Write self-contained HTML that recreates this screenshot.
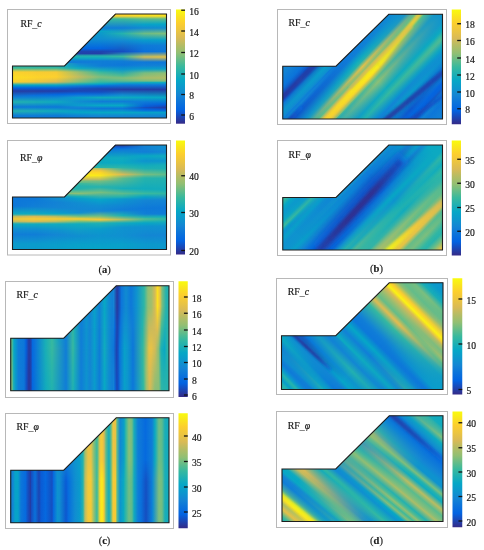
<!DOCTYPE html>
<html><head><meta charset="utf-8"><style>
html,body{margin:0;padding:0;background:#fff;}
svg{display:block;}
.t{font-family:"Liberation Serif", "Times New Roman", serif;font-size:9.6px;fill:#1a1a1a;stroke:#1a1a1a;stroke-width:0.2px;}
.rf{font-family:"Liberation Serif", "Times New Roman", serif;font-size:9.8px;fill:#1a1a1a;stroke:#1a1a1a;stroke-width:0.2px;}
.pl{font-family:"Liberation Serif", "Times New Roman", serif;font-size:10.5px;fill:#1a1a1a;stroke:#1a1a1a;stroke-width:0.15px;}
</style></head><body>
<svg width="484" height="550" viewBox="0 0 484 550">
<defs>
<clipPath id="clip_A1"><polygon points="12.5,66 64.5,66 115.5,14 166.5,14 166.5,118 12.5,118"/></clipPath>
<linearGradient id="g_A1_0" gradientUnits="userSpaceOnUse" x1="0" y1="12.5" x2="0" y2="119.5"><stop offset="0" stop-color="#fbdb25"/><stop offset="0.0327" stop-color="#fcd32a"/><stop offset="0.0607" stop-color="#40ba9a"/><stop offset="0.1449" stop-color="#1281d6"/><stop offset="0.1776" stop-color="#0daac0"/><stop offset="0.1822" stop-color="#09a0c9"/><stop offset="0.2009" stop-color="#08a3c8"/><stop offset="0.257" stop-color="#118cd1"/><stop offset="0.3458" stop-color="#085ed9"/><stop offset="0.3645" stop-color="#184bbb"/><stop offset="0.3832" stop-color="#0660dc"/><stop offset="0.4065" stop-color="#2cb5a8"/><stop offset="0.4159" stop-color="#29b4aa"/><stop offset="0.4346" stop-color="#08a2c8"/><stop offset="0.4533" stop-color="#117fd6"/><stop offset="0.4673" stop-color="#107cd7"/><stop offset="0.472" stop-color="#38b99e"/><stop offset="0.5187" stop-color="#38b99e"/><stop offset="0.5561" stop-color="#fcd02d"/><stop offset="0.6075" stop-color="#fbdd24"/><stop offset="0.6495" stop-color="#fcd02d"/><stop offset="0.6776" stop-color="#08a8c4"/><stop offset="0.7056" stop-color="#0561dd"/><stop offset="0.7336" stop-color="#253ca4"/><stop offset="0.7897" stop-color="#107dd7"/><stop offset="0.8364" stop-color="#24b2ae"/><stop offset="0.8832" stop-color="#0d77d9"/><stop offset="0.9206" stop-color="#24b2ae"/><stop offset="0.9673" stop-color="#0d77d9"/><stop offset="0.9907" stop-color="#1485d4"/><stop offset="1" stop-color="#1485d4"/></linearGradient>
<linearGradient id="g_A1_1" gradientUnits="userSpaceOnUse" x1="0" y1="12.5" x2="0" y2="119.5"><stop offset="0" stop-color="#fbdb25"/><stop offset="0.0327" stop-color="#fcd22b"/><stop offset="0.0607" stop-color="#3fb99b"/><stop offset="0.1449" stop-color="#1180d6"/><stop offset="0.1776" stop-color="#0ba9c2"/><stop offset="0.1822" stop-color="#099fc9"/><stop offset="0.2009" stop-color="#09a0c9"/><stop offset="0.2523" stop-color="#108ed0"/><stop offset="0.3411" stop-color="#0462e0"/><stop offset="0.3645" stop-color="#1a49b8"/><stop offset="0.3832" stop-color="#0d57cf"/><stop offset="0.4065" stop-color="#29b4aa"/><stop offset="0.4206" stop-color="#1dafb4"/><stop offset="0.4533" stop-color="#117ed7"/><stop offset="0.4673" stop-color="#107cd7"/><stop offset="0.472" stop-color="#27b3ab"/><stop offset="0.5187" stop-color="#36b89f"/><stop offset="0.5561" stop-color="#f8cc32"/><stop offset="0.6075" stop-color="#fcd42a"/><stop offset="0.6495" stop-color="#eec63e"/><stop offset="0.6776" stop-color="#07a7c5"/><stop offset="0.7056" stop-color="#0560dd"/><stop offset="0.7336" stop-color="#253da4"/><stop offset="0.7757" stop-color="#0a71dc"/><stop offset="0.8364" stop-color="#1bafb5"/><stop offset="0.8832" stop-color="#0d78d9"/><stop offset="0.9206" stop-color="#1cafb5"/><stop offset="0.9673" stop-color="#0d78d9"/><stop offset="0.9907" stop-color="#1485d4"/><stop offset="1" stop-color="#1485d4"/></linearGradient>
<linearGradient id="mg_A1_1" gradientUnits="userSpaceOnUse" x1="12.5" y1="0" x2="34.5" y2="0"><stop offset="0" stop-color="#000"/><stop offset="1" stop-color="#fff"/></linearGradient>
<mask id="m_A1_1" maskUnits="userSpaceOnUse" x="0" y="0" width="484" height="550"><rect x="11.5" y="13" width="156" height="106" fill="url(#mg_A1_1)"/></mask>
<linearGradient id="g_A1_2" gradientUnits="userSpaceOnUse" x1="0" y1="12.5" x2="0" y2="119.5"><stop offset="0" stop-color="#fbda26"/><stop offset="0.0327" stop-color="#fcd22b"/><stop offset="0.0607" stop-color="#3db99c"/><stop offset="0.1449" stop-color="#117fd6"/><stop offset="0.1776" stop-color="#09a8c4"/><stop offset="0.1822" stop-color="#0b9ccb"/><stop offset="0.2056" stop-color="#0c99cc"/><stop offset="0.2477" stop-color="#108fd0"/><stop offset="0.3411" stop-color="#0461df"/><stop offset="0.3645" stop-color="#1c46b4"/><stop offset="0.3832" stop-color="#174cbd"/><stop offset="0.4065" stop-color="#26b3ac"/><stop offset="0.4252" stop-color="#13acbc"/><stop offset="0.4533" stop-color="#107dd7"/><stop offset="0.4673" stop-color="#107cd7"/><stop offset="0.472" stop-color="#20b0b1"/><stop offset="0.5047" stop-color="#29b4aa"/><stop offset="0.5187" stop-color="#38b99e"/><stop offset="0.5561" stop-color="#f5ca36"/><stop offset="0.6028" stop-color="#fcd02d"/><stop offset="0.6495" stop-color="#d9ba56"/><stop offset="0.6776" stop-color="#08a8c4"/><stop offset="0.7056" stop-color="#0561dd"/><stop offset="0.7336" stop-color="#253ca4"/><stop offset="0.7664" stop-color="#0568df"/><stop offset="0.7991" stop-color="#118dd1"/><stop offset="0.8364" stop-color="#10abbe"/><stop offset="0.8832" stop-color="#0d77d9"/><stop offset="0.9206" stop-color="#10abbe"/><stop offset="0.9673" stop-color="#0d77d9"/><stop offset="0.9907" stop-color="#1485d4"/><stop offset="1" stop-color="#1485d4"/></linearGradient>
<linearGradient id="mg_A1_2" gradientUnits="userSpaceOnUse" x1="34.5" y1="0" x2="56.5" y2="0"><stop offset="0" stop-color="#000"/><stop offset="1" stop-color="#fff"/></linearGradient>
<mask id="m_A1_2" maskUnits="userSpaceOnUse" x="0" y="0" width="484" height="550"><rect x="11.5" y="13" width="156" height="106" fill="url(#mg_A1_2)"/></mask>
<linearGradient id="g_A1_3" gradientUnits="userSpaceOnUse" x1="0" y1="12.5" x2="0" y2="119.5"><stop offset="0" stop-color="#fbd926"/><stop offset="0.0327" stop-color="#fcd12c"/><stop offset="0.0607" stop-color="#3bb99d"/><stop offset="0.1449" stop-color="#117ed7"/><stop offset="0.1776" stop-color="#06a7c6"/><stop offset="0.1822" stop-color="#0c98cc"/><stop offset="0.2477" stop-color="#108ed0"/><stop offset="0.3364" stop-color="#0466e0"/><stop offset="0.3645" stop-color="#1e44b0"/><stop offset="0.3832" stop-color="#2141ab"/><stop offset="0.4065" stop-color="#24b2ae"/><stop offset="0.4252" stop-color="#10abbe"/><stop offset="0.4533" stop-color="#107dd7"/><stop offset="0.4673" stop-color="#107dd7"/><stop offset="0.4766" stop-color="#1485d4"/><stop offset="0.5047" stop-color="#0b9bcb"/><stop offset="0.5234" stop-color="#15acba"/><stop offset="0.5561" stop-color="#99be70"/><stop offset="0.6028" stop-color="#c3bc5f"/><stop offset="0.6495" stop-color="#80be7c"/><stop offset="0.6682" stop-color="#1baeb5"/><stop offset="0.6869" stop-color="#0e79d8"/><stop offset="0.7103" stop-color="#1450c3"/><stop offset="0.7336" stop-color="#1d45b1"/><stop offset="0.7617" stop-color="#0669df"/><stop offset="0.7804" stop-color="#1485d4"/><stop offset="0.7944" stop-color="#099fc9"/><stop offset="0.8318" stop-color="#108fd0"/><stop offset="0.8598" stop-color="#0c99cc"/><stop offset="0.8692" stop-color="#0b9bcb"/><stop offset="0.8832" stop-color="#1486d4"/><stop offset="0.8972" stop-color="#1180d6"/><stop offset="0.9206" stop-color="#09a0c9"/><stop offset="0.9346" stop-color="#07a4c7"/><stop offset="0.9673" stop-color="#1180d6"/><stop offset="1" stop-color="#1485d4"/></linearGradient>
<linearGradient id="mg_A1_3" gradientUnits="userSpaceOnUse" x1="56.5" y1="0" x2="78.5" y2="0"><stop offset="0" stop-color="#000"/><stop offset="1" stop-color="#fff"/></linearGradient>
<mask id="m_A1_3" maskUnits="userSpaceOnUse" x="0" y="0" width="484" height="550"><rect x="11.5" y="13" width="156" height="106" fill="url(#mg_A1_3)"/></mask>
<linearGradient id="g_A1_4" gradientUnits="userSpaceOnUse" x1="0" y1="12.5" x2="0" y2="119.5"><stop offset="0" stop-color="#fbd827"/><stop offset="0.0327" stop-color="#fcd02d"/><stop offset="0.0607" stop-color="#39b99e"/><stop offset="0.1449" stop-color="#107dd7"/><stop offset="0.1776" stop-color="#07a5c7"/><stop offset="0.1822" stop-color="#0a9dca"/><stop offset="0.2243" stop-color="#0e93ce"/><stop offset="0.2477" stop-color="#108ed0"/><stop offset="0.3364" stop-color="#0466e0"/><stop offset="0.3645" stop-color="#1e44b0"/><stop offset="0.3832" stop-color="#233fa8"/><stop offset="0.4065" stop-color="#24b2ae"/><stop offset="0.4252" stop-color="#10abbe"/><stop offset="0.4533" stop-color="#107dd7"/><stop offset="0.5" stop-color="#107dd7"/><stop offset="0.5421" stop-color="#1aaeb6"/><stop offset="0.5607" stop-color="#3eb99b"/><stop offset="0.6028" stop-color="#80be7c"/><stop offset="0.6495" stop-color="#38b99e"/><stop offset="0.6682" stop-color="#07a7c5"/><stop offset="0.6869" stop-color="#066ade"/><stop offset="0.715" stop-color="#2141ab"/><stop offset="0.743" stop-color="#144fc2"/><stop offset="0.771" stop-color="#0d78d9"/><stop offset="0.7944" stop-color="#10abbe"/><stop offset="0.8318" stop-color="#107dd7"/><stop offset="0.8692" stop-color="#08a8c5"/><stop offset="0.8972" stop-color="#0d77d9"/><stop offset="0.9346" stop-color="#08a8c4"/><stop offset="0.9673" stop-color="#1485d4"/><stop offset="1" stop-color="#1485d4"/></linearGradient>
<linearGradient id="mg_A1_4" gradientUnits="userSpaceOnUse" x1="78.5" y1="0" x2="100.5" y2="0"><stop offset="0" stop-color="#000"/><stop offset="1" stop-color="#fff"/></linearGradient>
<mask id="m_A1_4" maskUnits="userSpaceOnUse" x="0" y="0" width="484" height="550"><rect x="11.5" y="13" width="156" height="106" fill="url(#mg_A1_4)"/></mask>
<linearGradient id="g_A1_5" gradientUnits="userSpaceOnUse" x1="0" y1="12.5" x2="0" y2="119.5"><stop offset="0" stop-color="#fbd728"/><stop offset="0.0327" stop-color="#fcd02d"/><stop offset="0.0607" stop-color="#38b99e"/><stop offset="0.1449" stop-color="#107dd7"/><stop offset="0.1963" stop-color="#24b2ae"/><stop offset="0.2664" stop-color="#1388d3"/><stop offset="0.3645" stop-color="#154ec1"/><stop offset="0.4112" stop-color="#38b99e"/><stop offset="0.4533" stop-color="#107dd7"/><stop offset="0.4907" stop-color="#0d77d9"/><stop offset="0.5327" stop-color="#0c97cc"/><stop offset="0.5888" stop-color="#4aba95"/><stop offset="0.6121" stop-color="#80be7c"/><stop offset="0.6402" stop-color="#5cbb8d"/><stop offset="0.6636" stop-color="#0c98cc"/><stop offset="0.6776" stop-color="#0d77d9"/><stop offset="0.7196" stop-color="#253ca4"/><stop offset="0.771" stop-color="#118cd1"/><stop offset="0.7944" stop-color="#10abbe"/><stop offset="0.8318" stop-color="#107dd7"/><stop offset="0.8692" stop-color="#08a8c4"/><stop offset="0.8972" stop-color="#0d77d9"/><stop offset="0.9346" stop-color="#08a8c4"/><stop offset="0.9673" stop-color="#1485d4"/><stop offset="1" stop-color="#1485d4"/></linearGradient>
<linearGradient id="mg_A1_5" gradientUnits="userSpaceOnUse" x1="100.5" y1="0" x2="122.5" y2="0"><stop offset="0" stop-color="#000"/><stop offset="1" stop-color="#fff"/></linearGradient>
<mask id="m_A1_5" maskUnits="userSpaceOnUse" x="0" y="0" width="484" height="550"><rect x="11.5" y="13" width="156" height="106" fill="url(#mg_A1_5)"/></mask>
<linearGradient id="g_A1_6" gradientUnits="userSpaceOnUse" x1="0" y1="12.5" x2="0" y2="119.5"><stop offset="0" stop-color="#fae51e"/><stop offset="0.028" stop-color="#fbde23"/><stop offset="0.0327" stop-color="#fbdc24"/><stop offset="0.0607" stop-color="#56bb90"/><stop offset="0.1121" stop-color="#08a2c8"/><stop offset="0.1449" stop-color="#128ad2"/><stop offset="0.1963" stop-color="#6bbc86"/><stop offset="0.257" stop-color="#0a9dca"/><stop offset="0.3084" stop-color="#0f7ad8"/><stop offset="0.3645" stop-color="#0a71dc"/><stop offset="0.4112" stop-color="#bbbc62"/><stop offset="0.4159" stop-color="#d1bb59"/><stop offset="0.4626" stop-color="#0e78d9"/><stop offset="0.4953" stop-color="#1280d6"/><stop offset="0.528" stop-color="#0a9eca"/><stop offset="0.5654" stop-color="#78bd7f"/><stop offset="0.6121" stop-color="#a9bd6a"/><stop offset="0.6402" stop-color="#79bd7f"/><stop offset="0.6542" stop-color="#11abbd"/><stop offset="0.6776" stop-color="#0d78d9"/><stop offset="0.7196" stop-color="#253ca4"/><stop offset="0.785" stop-color="#0a9dca"/><stop offset="0.7944" stop-color="#09a8c3"/><stop offset="0.8364" stop-color="#0e7ad8"/><stop offset="0.8785" stop-color="#085ed9"/><stop offset="0.8879" stop-color="#1450c2"/><stop offset="0.9065" stop-color="#0465e0"/><stop offset="0.9112" stop-color="#0669df"/><stop offset="0.9346" stop-color="#08a2c8"/><stop offset="0.9673" stop-color="#1485d4"/><stop offset="1" stop-color="#1485d4"/></linearGradient>
<linearGradient id="mg_A1_6" gradientUnits="userSpaceOnUse" x1="122.5" y1="0" x2="144.5" y2="0"><stop offset="0" stop-color="#000"/><stop offset="1" stop-color="#fff"/></linearGradient>
<mask id="m_A1_6" maskUnits="userSpaceOnUse" x="0" y="0" width="484" height="550"><rect x="11.5" y="13" width="156" height="106" fill="url(#mg_A1_6)"/></mask>
<linearGradient id="g_A1_7" gradientUnits="userSpaceOnUse" x1="0" y1="12.5" x2="0" y2="119.5"><stop offset="0" stop-color="#fae91b"/><stop offset="0.028" stop-color="#fbe121"/><stop offset="0.0327" stop-color="#fbde22"/><stop offset="0.0607" stop-color="#5cbb8d"/><stop offset="0.1075" stop-color="#06a7c6"/><stop offset="0.1449" stop-color="#118dd1"/><stop offset="0.1963" stop-color="#80be7c"/><stop offset="0.257" stop-color="#08a1c8"/><stop offset="0.3084" stop-color="#107cd7"/><stop offset="0.3645" stop-color="#0d77d9"/><stop offset="0.4159" stop-color="#e7c246"/><stop offset="0.4626" stop-color="#0d77d9"/><stop offset="0.4953" stop-color="#1281d5"/><stop offset="0.528" stop-color="#09a0c9"/><stop offset="0.5654" stop-color="#8ebf75"/><stop offset="0.6121" stop-color="#b1bd66"/><stop offset="0.6402" stop-color="#80be7c"/><stop offset="0.6542" stop-color="#10abbe"/><stop offset="0.6776" stop-color="#0d77d9"/><stop offset="0.7196" stop-color="#253ca4"/><stop offset="0.7944" stop-color="#08a8c4"/><stop offset="0.8598" stop-color="#065fdb"/><stop offset="0.8879" stop-color="#253ca4"/><stop offset="0.9112" stop-color="#0561de"/><stop offset="0.9346" stop-color="#09a0c9"/><stop offset="0.9673" stop-color="#1485d4"/><stop offset="1" stop-color="#1485d4"/></linearGradient>
<linearGradient id="mg_A1_7" gradientUnits="userSpaceOnUse" x1="144.5" y1="0" x2="166.5" y2="0"><stop offset="0" stop-color="#000"/><stop offset="1" stop-color="#fff"/></linearGradient>
<mask id="m_A1_7" maskUnits="userSpaceOnUse" x="0" y="0" width="484" height="550"><rect x="11.5" y="13" width="156" height="106" fill="url(#mg_A1_7)"/></mask>
<linearGradient id="cb_A1" x1="0" y1="0" x2="0" y2="1"><stop offset="0" stop-color="#f9fb0e"/><stop offset="0.06" stop-color="#fae41e"/><stop offset="0.12" stop-color="#fcce2e"/><stop offset="0.19" stop-color="#eac442"/><stop offset="0.25" stop-color="#d9ba56"/><stop offset="0.31" stop-color="#b6bc64"/><stop offset="0.38" stop-color="#92bf73"/><stop offset="0.44" stop-color="#65bc88"/><stop offset="0.5" stop-color="#38b99e"/><stop offset="0.56" stop-color="#1fb0b2"/><stop offset="0.62" stop-color="#06a7c6"/><stop offset="0.69" stop-color="#0d96cd"/><stop offset="0.75" stop-color="#1485d4"/><stop offset="0.81" stop-color="#0c74da"/><stop offset="0.88" stop-color="#0363e1"/><stop offset="0.94" stop-color="#1c46b4"/><stop offset="1" stop-color="#352a87"/></linearGradient>
<clipPath id="clip_A2"><polygon points="12.5,197 64.5,197 115.5,145 166.5,145 166.5,249.5 12.5,249.5"/></clipPath>
<linearGradient id="g_A2_0" gradientUnits="userSpaceOnUse" x1="0" y1="143.5" x2="0" y2="251"><stop offset="0" stop-color="#0462df"/><stop offset="0.0186" stop-color="#0464e1"/><stop offset="0.0558" stop-color="#117fd6"/><stop offset="0.0837" stop-color="#128ad2"/><stop offset="0.1209" stop-color="#06a6c6"/><stop offset="0.1442" stop-color="#06a7c6"/><stop offset="0.1721" stop-color="#07a3c7"/><stop offset="0.2233" stop-color="#24b2ae"/><stop offset="0.2279" stop-color="#bbbc62"/><stop offset="0.2837" stop-color="#f9cc31"/><stop offset="0.2977" stop-color="#fcce2e"/><stop offset="0.3488" stop-color="#66bc88"/><stop offset="0.3628" stop-color="#50bb92"/><stop offset="0.3674" stop-color="#34b8a1"/><stop offset="0.4093" stop-color="#24b2ae"/><stop offset="0.4279" stop-color="#2fb6a5"/><stop offset="0.4605" stop-color="#76bd80"/><stop offset="0.4651" stop-color="#7cbe7e"/><stop offset="0.4698" stop-color="#0e78d9"/><stop offset="0.5814" stop-color="#0d77d9"/><stop offset="0.6558" stop-color="#10abbe"/><stop offset="0.6791" stop-color="#bdbc62"/><stop offset="0.7023" stop-color="#f5ca36"/><stop offset="0.7256" stop-color="#bdbc62"/><stop offset="0.7488" stop-color="#10abbe"/><stop offset="0.7953" stop-color="#108fd0"/><stop offset="0.8465" stop-color="#107ed7"/><stop offset="0.8977" stop-color="#108ed0"/><stop offset="0.9349" stop-color="#0b9bcb"/><stop offset="1" stop-color="#0b9bcb"/></linearGradient>
<linearGradient id="g_A2_1" gradientUnits="userSpaceOnUse" x1="0" y1="143.5" x2="0" y2="251"><stop offset="0" stop-color="#095cd6"/><stop offset="0.0186" stop-color="#065fdb"/><stop offset="0.0558" stop-color="#117ed7"/><stop offset="0.0884" stop-color="#108ed0"/><stop offset="0.1209" stop-color="#06a6c6"/><stop offset="0.1442" stop-color="#07a7c5"/><stop offset="0.1721" stop-color="#07a4c7"/><stop offset="0.2233" stop-color="#25b2ad"/><stop offset="0.2279" stop-color="#cbbb5c"/><stop offset="0.2791" stop-color="#fcd02c"/><stop offset="0.2977" stop-color="#fbd926"/><stop offset="0.3488" stop-color="#6ebd84"/><stop offset="0.3628" stop-color="#57bb8f"/><stop offset="0.3674" stop-color="#35b8a1"/><stop offset="0.4093" stop-color="#25b2ae"/><stop offset="0.4279" stop-color="#2fb6a5"/><stop offset="0.4651" stop-color="#82be7b"/><stop offset="0.4698" stop-color="#107ed7"/><stop offset="0.5163" stop-color="#0d78d9"/><stop offset="0.586" stop-color="#117fd6"/><stop offset="0.6558" stop-color="#10abbe"/><stop offset="0.6791" stop-color="#d8ba56"/><stop offset="0.7023" stop-color="#f8cc33"/><stop offset="0.7256" stop-color="#d8ba56"/><stop offset="0.7488" stop-color="#10abbe"/><stop offset="0.7953" stop-color="#108fd0"/><stop offset="0.8465" stop-color="#107ed7"/><stop offset="0.8977" stop-color="#108ed0"/><stop offset="0.9349" stop-color="#0b9bcb"/><stop offset="1" stop-color="#0b9bcb"/></linearGradient>
<linearGradient id="mg_A2_1" gradientUnits="userSpaceOnUse" x1="12.5" y1="0" x2="34.5" y2="0"><stop offset="0" stop-color="#000"/><stop offset="1" stop-color="#fff"/></linearGradient>
<mask id="m_A2_1" maskUnits="userSpaceOnUse" x="0" y="0" width="484" height="550"><rect x="11.5" y="144" width="156" height="106.5" fill="url(#mg_A2_1)"/></mask>
<linearGradient id="g_A2_2" gradientUnits="userSpaceOnUse" x1="0" y1="143.5" x2="0" y2="251"><stop offset="0" stop-color="#1054ca"/><stop offset="0.0186" stop-color="#0d58cf"/><stop offset="0.0558" stop-color="#107dd7"/><stop offset="0.093" stop-color="#0f92cf"/><stop offset="0.1256" stop-color="#06a7c6"/><stop offset="0.1442" stop-color="#08a8c4"/><stop offset="0.1767" stop-color="#06a6c6"/><stop offset="0.2233" stop-color="#27b3ac"/><stop offset="0.2279" stop-color="#debd50"/><stop offset="0.2791" stop-color="#fbdc24"/><stop offset="0.2977" stop-color="#fae71c"/><stop offset="0.3349" stop-color="#bbbc62"/><stop offset="0.3488" stop-color="#78bd80"/><stop offset="0.3628" stop-color="#5ebc8c"/><stop offset="0.3674" stop-color="#34b8a1"/><stop offset="0.4047" stop-color="#24b2ae"/><stop offset="0.4233" stop-color="#26b3ac"/><stop offset="0.4651" stop-color="#89be77"/><stop offset="0.4698" stop-color="#41ba9a"/><stop offset="0.4977" stop-color="#1090d0"/><stop offset="0.5488" stop-color="#1382d5"/><stop offset="0.5953" stop-color="#1485d4"/><stop offset="0.6465" stop-color="#0a9dca"/><stop offset="0.6558" stop-color="#0ca9c1"/><stop offset="0.6791" stop-color="#b6bc64"/><stop offset="0.7023" stop-color="#f9cc31"/><stop offset="0.7256" stop-color="#b6bc64"/><stop offset="0.7488" stop-color="#11abbe"/><stop offset="0.8093" stop-color="#0f91cf"/><stop offset="0.8512" stop-color="#1486d4"/><stop offset="0.9116" stop-color="#0c98cc"/><stop offset="0.9488" stop-color="#0a9eca"/><stop offset="1" stop-color="#099fc9"/></linearGradient>
<linearGradient id="mg_A2_2" gradientUnits="userSpaceOnUse" x1="34.5" y1="0" x2="56.5" y2="0"><stop offset="0" stop-color="#000"/><stop offset="1" stop-color="#fff"/></linearGradient>
<mask id="m_A2_2" maskUnits="userSpaceOnUse" x="0" y="0" width="484" height="550"><rect x="11.5" y="144" width="156" height="106.5" fill="url(#mg_A2_2)"/></mask>
<linearGradient id="g_A2_3" gradientUnits="userSpaceOnUse" x1="0" y1="143.5" x2="0" y2="251"><stop offset="0" stop-color="#194aba"/><stop offset="0.014" stop-color="#1c47b5"/><stop offset="0.0558" stop-color="#0f7cd7"/><stop offset="0.1349" stop-color="#0daac0"/><stop offset="0.1767" stop-color="#06a7c6"/><stop offset="0.2233" stop-color="#29b3aa"/><stop offset="0.2279" stop-color="#eec63e"/><stop offset="0.2605" stop-color="#fcd529"/><stop offset="0.2977" stop-color="#faf214"/><stop offset="0.3302" stop-color="#dbbb54"/><stop offset="0.3488" stop-color="#7fbe7c"/><stop offset="0.3628" stop-color="#64bc89"/><stop offset="0.3721" stop-color="#3bb99d"/><stop offset="0.3953" stop-color="#25b2ae"/><stop offset="0.4233" stop-color="#25b2ad"/><stop offset="0.4651" stop-color="#8cbf76"/><stop offset="0.493" stop-color="#1baeb5"/><stop offset="0.5116" stop-color="#099fc9"/><stop offset="0.5535" stop-color="#118cd1"/><stop offset="0.6093" stop-color="#1387d3"/><stop offset="0.6465" stop-color="#108fd0"/><stop offset="0.6744" stop-color="#60bc8b"/><stop offset="0.7023" stop-color="#fccf2e"/><stop offset="0.7302" stop-color="#5dbb8c"/><stop offset="0.7488" stop-color="#11abbe"/><stop offset="0.8605" stop-color="#108ed0"/><stop offset="0.9395" stop-color="#09a1c9"/><stop offset="1" stop-color="#08a3c8"/></linearGradient>
<linearGradient id="mg_A2_3" gradientUnits="userSpaceOnUse" x1="56.5" y1="0" x2="78.5" y2="0"><stop offset="0" stop-color="#000"/><stop offset="1" stop-color="#fff"/></linearGradient>
<mask id="m_A2_3" maskUnits="userSpaceOnUse" x="0" y="0" width="484" height="550"><rect x="11.5" y="144" width="156" height="106.5" fill="url(#mg_A2_3)"/></mask>
<linearGradient id="g_A2_4" gradientUnits="userSpaceOnUse" x1="0" y1="143.5" x2="0" y2="251"><stop offset="0" stop-color="#233ea7"/><stop offset="0.014" stop-color="#253ca3"/><stop offset="0.0465" stop-color="#0a72db"/><stop offset="0.1349" stop-color="#0faabf"/><stop offset="0.1814" stop-color="#0ba9c2"/><stop offset="0.2233" stop-color="#2bb4a9"/><stop offset="0.2279" stop-color="#96bf71"/><stop offset="0.2512" stop-color="#ecc540"/><stop offset="0.2698" stop-color="#fcd529"/><stop offset="0.2977" stop-color="#fae61d"/><stop offset="0.3349" stop-color="#babc63"/><stop offset="0.3488" stop-color="#78bd80"/><stop offset="0.4047" stop-color="#23b2af"/><stop offset="0.4558" stop-color="#78bd7f"/><stop offset="0.5209" stop-color="#07a6c7"/><stop offset="0.5767" stop-color="#108ed0"/><stop offset="0.6279" stop-color="#1485d4"/><stop offset="0.6744" stop-color="#6cbc85"/><stop offset="0.707" stop-color="#f2c83a"/><stop offset="0.7116" stop-color="#eac442"/><stop offset="0.7395" stop-color="#22b1b0"/><stop offset="0.7953" stop-color="#0a9cca"/><stop offset="0.8558" stop-color="#0e93ce"/><stop offset="0.9814" stop-color="#07a5c7"/><stop offset="1" stop-color="#07a4c7"/></linearGradient>
<linearGradient id="mg_A2_4" gradientUnits="userSpaceOnUse" x1="78.5" y1="0" x2="100.5" y2="0"><stop offset="0" stop-color="#000"/><stop offset="1" stop-color="#fff"/></linearGradient>
<mask id="m_A2_4" maskUnits="userSpaceOnUse" x="0" y="0" width="484" height="550"><rect x="11.5" y="144" width="156" height="106.5" fill="url(#mg_A2_4)"/></mask>
<linearGradient id="g_A2_5" gradientUnits="userSpaceOnUse" x1="0" y1="143.5" x2="0" y2="251"><stop offset="0" stop-color="#28399e"/><stop offset="0.014" stop-color="#29389d"/><stop offset="0.0419" stop-color="#076ade"/><stop offset="0.0558" stop-color="#0f7ad8"/><stop offset="0.1349" stop-color="#10abbe"/><stop offset="0.1814" stop-color="#0ba9c2"/><stop offset="0.2233" stop-color="#2bb4a8"/><stop offset="0.2884" stop-color="#d9ba56"/><stop offset="0.3256" stop-color="#5cbb8d"/><stop offset="0.4186" stop-color="#18adb8"/><stop offset="0.4651" stop-color="#5cbb8d"/><stop offset="0.4977" stop-color="#24b2ae"/><stop offset="0.5163" stop-color="#0c98cc"/><stop offset="0.6" stop-color="#1280d6"/><stop offset="0.6186" stop-color="#107dd7"/><stop offset="0.6698" stop-color="#1cafb4"/><stop offset="0.707" stop-color="#b1bd66"/><stop offset="0.7395" stop-color="#10abbe"/><stop offset="0.7814" stop-color="#0f92cf"/><stop offset="0.8605" stop-color="#1090d0"/><stop offset="0.9395" stop-color="#09a0c9"/><stop offset="1" stop-color="#09a0c9"/></linearGradient>
<linearGradient id="mg_A2_5" gradientUnits="userSpaceOnUse" x1="100.5" y1="0" x2="122.5" y2="0"><stop offset="0" stop-color="#000"/><stop offset="1" stop-color="#fff"/></linearGradient>
<mask id="m_A2_5" maskUnits="userSpaceOnUse" x="0" y="0" width="484" height="550"><rect x="11.5" y="144" width="156" height="106.5" fill="url(#mg_A2_5)"/></mask>
<linearGradient id="g_A2_6" gradientUnits="userSpaceOnUse" x1="0" y1="143.5" x2="0" y2="251"><stop offset="0" stop-color="#1281d5"/><stop offset="0.0651" stop-color="#1280d6"/><stop offset="0.0791" stop-color="#117ed7"/><stop offset="0.1163" stop-color="#08a8c4"/><stop offset="0.1628" stop-color="#0e94ce"/><stop offset="0.2047" stop-color="#12abbc"/><stop offset="0.2326" stop-color="#1fb0b2"/><stop offset="0.2884" stop-color="#78bd80"/><stop offset="0.3209" stop-color="#27b3ab"/><stop offset="0.4233" stop-color="#11abbd"/><stop offset="0.4651" stop-color="#39b99e"/><stop offset="0.4977" stop-color="#08a1c8"/><stop offset="0.5302" stop-color="#1485d4"/><stop offset="0.6047" stop-color="#0e79d9"/><stop offset="0.6558" stop-color="#117fd6"/><stop offset="0.6884" stop-color="#28b3ab"/><stop offset="0.7023" stop-color="#57bb8f"/><stop offset="0.7116" stop-color="#42ba99"/><stop offset="0.7395" stop-color="#06a6c6"/><stop offset="0.7721" stop-color="#0f92cf"/><stop offset="0.8558" stop-color="#1387d3"/><stop offset="0.9395" stop-color="#0c99cc"/><stop offset="1" stop-color="#0c99cc"/></linearGradient>
<linearGradient id="mg_A2_6" gradientUnits="userSpaceOnUse" x1="122.5" y1="0" x2="144.5" y2="0"><stop offset="0" stop-color="#000"/><stop offset="1" stop-color="#fff"/></linearGradient>
<mask id="m_A2_6" maskUnits="userSpaceOnUse" x="0" y="0" width="484" height="550"><rect x="11.5" y="144" width="156" height="106.5" fill="url(#mg_A2_6)"/></mask>
<linearGradient id="g_A2_7" gradientUnits="userSpaceOnUse" x1="0" y1="143.5" x2="0" y2="251"><stop offset="0" stop-color="#0f92cf"/><stop offset="0.0512" stop-color="#108fd0"/><stop offset="0.0791" stop-color="#1485d4"/><stop offset="0.1163" stop-color="#10abbe"/><stop offset="0.1628" stop-color="#0e93ce"/><stop offset="0.2" stop-color="#18adb8"/><stop offset="0.2326" stop-color="#1dafb3"/><stop offset="0.2698" stop-color="#48ba97"/><stop offset="0.2884" stop-color="#5cbb8d"/><stop offset="0.3256" stop-color="#23b1af"/><stop offset="0.4279" stop-color="#14acbb"/><stop offset="0.4651" stop-color="#30b6a4"/><stop offset="0.5256" stop-color="#1485d4"/><stop offset="0.6" stop-color="#0e78d9"/><stop offset="0.6558" stop-color="#107dd7"/><stop offset="0.6791" stop-color="#10abbe"/><stop offset="0.7023" stop-color="#35b8a0"/><stop offset="0.7256" stop-color="#17adb9"/><stop offset="0.7674" stop-color="#0e93ce"/><stop offset="0.8558" stop-color="#1486d4"/><stop offset="0.9395" stop-color="#0c98cc"/><stop offset="1" stop-color="#0c98cc"/></linearGradient>
<linearGradient id="mg_A2_7" gradientUnits="userSpaceOnUse" x1="144.5" y1="0" x2="166.5" y2="0"><stop offset="0" stop-color="#000"/><stop offset="1" stop-color="#fff"/></linearGradient>
<mask id="m_A2_7" maskUnits="userSpaceOnUse" x="0" y="0" width="484" height="550"><rect x="11.5" y="144" width="156" height="106.5" fill="url(#mg_A2_7)"/></mask>
<linearGradient id="cb_A2" x1="0" y1="0" x2="0" y2="1"><stop offset="0" stop-color="#f9fb0e"/><stop offset="0.06" stop-color="#fae41e"/><stop offset="0.12" stop-color="#fcce2e"/><stop offset="0.19" stop-color="#eac442"/><stop offset="0.25" stop-color="#d9ba56"/><stop offset="0.31" stop-color="#b6bc64"/><stop offset="0.38" stop-color="#92bf73"/><stop offset="0.44" stop-color="#65bc88"/><stop offset="0.5" stop-color="#38b99e"/><stop offset="0.56" stop-color="#1fb0b2"/><stop offset="0.62" stop-color="#06a7c6"/><stop offset="0.69" stop-color="#0d96cd"/><stop offset="0.75" stop-color="#1485d4"/><stop offset="0.81" stop-color="#0c74da"/><stop offset="0.88" stop-color="#0363e1"/><stop offset="0.94" stop-color="#1c46b4"/><stop offset="1" stop-color="#352a87"/></linearGradient>
<clipPath id="clip_B1"><polygon points="282.75,66.25 336,66.25 388.75,14.25 442.5,14.25 442.5,119 282.75,119"/></clipPath>
<linearGradient id="g_B1_0" gradientUnits="userSpaceOnUse" x1="183.18" y1="170.82" x2="296.91" y2="276.87"><stop offset="0" stop-color="#107dd7"/><stop offset="0.0064" stop-color="#107dd7"/><stop offset="0.0096" stop-color="#1485d4"/><stop offset="0.0386" stop-color="#1384d5"/><stop offset="0.0997" stop-color="#0c75da"/><stop offset="0.1415" stop-color="#2042ad"/><stop offset="0.1608" stop-color="#085dd8"/><stop offset="0.1768" stop-color="#0f7bd8"/><stop offset="0.2058" stop-color="#0e93ce"/><stop offset="0.2251" stop-color="#108ed0"/><stop offset="0.2379" stop-color="#1485d4"/><stop offset="0.2412" stop-color="#0f7bd8"/><stop offset="0.2444" stop-color="#0f7bd8"/><stop offset="0.254" stop-color="#1388d3"/><stop offset="0.2572" stop-color="#1388d3"/><stop offset="0.2765" stop-color="#0d58cf"/><stop offset="0.2926" stop-color="#1153c7"/><stop offset="0.3505" stop-color="#118bd1"/><stop offset="0.4084" stop-color="#3db99b"/><stop offset="0.4212" stop-color="#9cbe6f"/><stop offset="0.4309" stop-color="#ddbc51"/><stop offset="0.4469" stop-color="#e6c147"/><stop offset="0.4727" stop-color="#bfbc61"/><stop offset="0.4887" stop-color="#72bd82"/><stop offset="0.492" stop-color="#1aaeb6"/><stop offset="0.5016" stop-color="#08a2c8"/><stop offset="0.537" stop-color="#09a0c9"/><stop offset="0.5852" stop-color="#118bd1"/><stop offset="0.6238" stop-color="#07a5c7"/><stop offset="0.6559" stop-color="#1485d4"/><stop offset="0.701" stop-color="#0b72db"/><stop offset="0.7395" stop-color="#0a70dc"/><stop offset="0.7685" stop-color="#095cd6"/><stop offset="0.7974" stop-color="#128bd2"/><stop offset="0.8328" stop-color="#0567df"/><stop offset="0.8617" stop-color="#076ade"/><stop offset="0.8971" stop-color="#1280d6"/><stop offset="0.91" stop-color="#107ed7"/><stop offset="0.9132" stop-color="#0b72db"/><stop offset="0.9486" stop-color="#107dd7"/><stop offset="1" stop-color="#1281d6"/></linearGradient>
<linearGradient id="g_B1_1" gradientUnits="userSpaceOnUse" x1="183.18" y1="170.82" x2="296.91" y2="276.87"><stop offset="0" stop-color="#107dd7"/><stop offset="0.0064" stop-color="#107dd7"/><stop offset="0.0096" stop-color="#1486d4"/><stop offset="0.0418" stop-color="#1484d4"/><stop offset="0.1061" stop-color="#0a72db"/><stop offset="0.1318" stop-color="#085dd7"/><stop offset="0.1447" stop-color="#1e44b0"/><stop offset="0.2122" stop-color="#08a3c8"/><stop offset="0.2379" stop-color="#0d96cd"/><stop offset="0.2444" stop-color="#0f91cf"/><stop offset="0.2476" stop-color="#0d78d9"/><stop offset="0.299" stop-color="#107ed7"/><stop offset="0.3376" stop-color="#0eaac0"/><stop offset="0.3601" stop-color="#29b4aa"/><stop offset="0.3859" stop-color="#e4c049"/><stop offset="0.4084" stop-color="#93bf73"/><stop offset="0.4244" stop-color="#e5c148"/><stop offset="0.4405" stop-color="#faef17"/><stop offset="0.4695" stop-color="#f5ca36"/><stop offset="0.5016" stop-color="#5ebc8c"/><stop offset="0.5273" stop-color="#8dbf76"/><stop offset="0.5916" stop-color="#11abbd"/><stop offset="0.627" stop-color="#37b99f"/><stop offset="0.6752" stop-color="#0d97cd"/><stop offset="0.6913" stop-color="#1485d4"/><stop offset="0.7299" stop-color="#0a9eca"/><stop offset="0.8006" stop-color="#0e56cd"/><stop offset="0.8296" stop-color="#0568df"/><stop offset="0.8489" stop-color="#075fda"/><stop offset="0.8617" stop-color="#164dbe"/><stop offset="0.8842" stop-color="#0c76da"/><stop offset="0.8939" stop-color="#1282d5"/><stop offset="0.9196" stop-color="#0e79d8"/><stop offset="1" stop-color="#1281d5"/></linearGradient>
<linearGradient id="mg_B1_1" gradientUnits="userSpaceOnUse" x1="72.16" y1="-77.38" x2="135.43" y2="-145.23"><stop offset="0" stop-color="#000"/><stop offset="1" stop-color="#fff"/></linearGradient>
<mask id="m_B1_1" maskUnits="userSpaceOnUse" x="0" y="0" width="484" height="550"><rect x="281.75" y="13.25" width="161.75" height="106.75" fill="url(#mg_B1_1)"/></mask>
<linearGradient id="g_B1_2" gradientUnits="userSpaceOnUse" x1="183.18" y1="170.82" x2="296.91" y2="276.87"><stop offset="0" stop-color="#107dd7"/><stop offset="0.0064" stop-color="#107dd7"/><stop offset="0.0096" stop-color="#1387d3"/><stop offset="0.045" stop-color="#1383d5"/><stop offset="0.1029" stop-color="#0b73db"/><stop offset="0.135" stop-color="#1054c9"/><stop offset="0.1447" stop-color="#1e44b0"/><stop offset="0.1672" stop-color="#086ddd"/><stop offset="0.2122" stop-color="#09a0c9"/><stop offset="0.2347" stop-color="#0e94ce"/><stop offset="0.2444" stop-color="#118cd1"/><stop offset="0.2476" stop-color="#107cd7"/><stop offset="0.2669" stop-color="#0e79d9"/><stop offset="0.2701" stop-color="#1090d0"/><stop offset="0.3119" stop-color="#1090d0"/><stop offset="0.3344" stop-color="#1486d4"/><stop offset="0.3601" stop-color="#1386d3"/><stop offset="0.4019" stop-color="#46ba97"/><stop offset="0.4212" stop-color="#77bd80"/><stop offset="0.4309" stop-color="#7ebe7d"/><stop offset="0.4502" stop-color="#23b1af"/><stop offset="0.4952" stop-color="#0e93ce"/><stop offset="0.5627" stop-color="#0e94ce"/><stop offset="0.6013" stop-color="#0ca9c1"/><stop offset="0.627" stop-color="#44ba98"/><stop offset="0.6399" stop-color="#58bb8f"/><stop offset="0.6656" stop-color="#1fb0b2"/><stop offset="0.6881" stop-color="#06a6c6"/><stop offset="0.7106" stop-color="#118dd1"/><stop offset="0.7524" stop-color="#1180d6"/><stop offset="0.7685" stop-color="#0e78d9"/><stop offset="0.791" stop-color="#118dd1"/><stop offset="0.8006" stop-color="#0c99cc"/><stop offset="0.8167" stop-color="#1387d3"/><stop offset="0.8328" stop-color="#0363e1"/><stop offset="0.8521" stop-color="#086edd"/><stop offset="0.8682" stop-color="#1485d4"/><stop offset="0.8842" stop-color="#1486d4"/><stop offset="0.91" stop-color="#0a71dc"/><stop offset="0.9164" stop-color="#0669df"/><stop offset="0.9486" stop-color="#107dd7"/><stop offset="0.9711" stop-color="#1281d5"/><stop offset="1" stop-color="#1281d6"/></linearGradient>
<linearGradient id="mg_B1_2" gradientUnits="userSpaceOnUse" x1="135.43" y1="-145.23" x2="198.71" y2="-213.09"><stop offset="0" stop-color="#000"/><stop offset="1" stop-color="#fff"/></linearGradient>
<mask id="m_B1_2" maskUnits="userSpaceOnUse" x="0" y="0" width="484" height="550"><rect x="281.75" y="13.25" width="161.75" height="106.75" fill="url(#mg_B1_2)"/></mask>
<linearGradient id="sg_B1_0" gradientUnits="userSpaceOnUse" x1="281" y1="99" x2="320" y2="60"><stop offset="0" stop-color="#29389d"/><stop offset="1" stop-color="#2141ab"/></linearGradient>
<filter id="bl_1_30" filterUnits="userSpaceOnUse" x="0" y="0" width="484" height="550"><feGaussianBlur stdDeviation="1.3"/></filter>
<linearGradient id="sg_B1_1" gradientUnits="userSpaceOnUse" x1="287" y1="122" x2="302" y2="107"><stop offset="0" stop-color="#2141ab"/><stop offset="1" stop-color="#066ade"/></linearGradient>
<filter id="bl_1_20" filterUnits="userSpaceOnUse" x="0" y="0" width="484" height="550"><feGaussianBlur stdDeviation="1.2"/></filter>
<linearGradient id="sg_B1_2" gradientUnits="userSpaceOnUse" x1="383" y1="122" x2="446" y2="70"><stop offset="0" stop-color="#29389d"/><stop offset="1" stop-color="#1d45b2"/></linearGradient>
<linearGradient id="sg_B1_3" gradientUnits="userSpaceOnUse" x1="407" y1="122" x2="446" y2="94"><stop offset="0" stop-color="#1d45b2"/><stop offset="1" stop-color="#0d58cf"/></linearGradient>
<linearGradient id="sg_B1_4" gradientUnits="userSpaceOnUse" x1="326" y1="121" x2="379" y2="65"><stop offset="0" stop-color="#fcd02d"/><stop offset="1" stop-color="#f9f413"/></linearGradient>
<linearGradient id="sg_B1_5" gradientUnits="userSpaceOnUse" x1="379" y1="65" x2="421" y2="12"><stop offset="0" stop-color="#faf016"/><stop offset="1" stop-color="#f2c839"/></linearGradient>
<linearGradient id="sg_B1_6" gradientUnits="userSpaceOnUse" x1="350" y1="88" x2="412" y2="26"><stop offset="0" stop-color="#bdbc62"/><stop offset="0.5" stop-color="#e7c246"/><stop offset="1" stop-color="#d9ba56"/></linearGradient>
<linearGradient id="cb_B1" x1="0" y1="0" x2="0" y2="1"><stop offset="0" stop-color="#f9fb0e"/><stop offset="0.06" stop-color="#fae41e"/><stop offset="0.12" stop-color="#fcce2e"/><stop offset="0.19" stop-color="#eac442"/><stop offset="0.25" stop-color="#d9ba56"/><stop offset="0.31" stop-color="#b6bc64"/><stop offset="0.38" stop-color="#92bf73"/><stop offset="0.44" stop-color="#65bc88"/><stop offset="0.5" stop-color="#38b99e"/><stop offset="0.56" stop-color="#1fb0b2"/><stop offset="0.62" stop-color="#06a7c6"/><stop offset="0.69" stop-color="#0d96cd"/><stop offset="0.75" stop-color="#1485d4"/><stop offset="0.81" stop-color="#0c74da"/><stop offset="0.88" stop-color="#0363e1"/><stop offset="0.94" stop-color="#1c46b4"/><stop offset="1" stop-color="#352a87"/></linearGradient>
<clipPath id="clip_B2"><polygon points="282.75,197.5 336,197.5 388.75,145 442.5,145 442.5,250 282.75,250"/></clipPath>
<linearGradient id="g_B2_0" gradientUnits="userSpaceOnUse" x1="239.06" y1="239.06" x2="347.25" y2="347.25"><stop offset="0" stop-color="#38b99e"/><stop offset="0.0261" stop-color="#34b8a1"/><stop offset="0.0556" stop-color="#06a7c6"/><stop offset="0.085" stop-color="#0b9bcb"/><stop offset="0.1209" stop-color="#0aa8c3"/><stop offset="0.1405" stop-color="#32b7a3"/><stop offset="0.1471" stop-color="#37b99f"/><stop offset="0.1634" stop-color="#099fc9"/><stop offset="0.1765" stop-color="#0e93ce"/><stop offset="0.1993" stop-color="#09a0c9"/><stop offset="0.2288" stop-color="#0f92cf"/><stop offset="0.2745" stop-color="#0d95cd"/><stop offset="0.3007" stop-color="#099fc9"/><stop offset="0.3366" stop-color="#1387d3"/><stop offset="0.3758" stop-color="#0c75da"/><stop offset="0.402" stop-color="#144fc2"/><stop offset="0.4248" stop-color="#066ade"/><stop offset="0.4477" stop-color="#154fc1"/><stop offset="0.4673" stop-color="#0660dc"/><stop offset="0.4771" stop-color="#095cd6"/><stop offset="0.5" stop-color="#1485d4"/><stop offset="0.5294" stop-color="#28b3ab"/><stop offset="0.5359" stop-color="#37b99f"/><stop offset="0.5588" stop-color="#24b2ae"/><stop offset="0.5817" stop-color="#6fbd84"/><stop offset="0.6078" stop-color="#47ba97"/><stop offset="0.6307" stop-color="#52bb92"/><stop offset="0.6503" stop-color="#30b6a4"/><stop offset="0.6765" stop-color="#b0bd67"/><stop offset="0.7026" stop-color="#ddbc51"/><stop offset="0.7222" stop-color="#e5c148"/><stop offset="0.7386" stop-color="#fcd529"/><stop offset="0.7582" stop-color="#fbdd23"/><stop offset="0.7843" stop-color="#eec63e"/><stop offset="0.8137" stop-color="#7abd7e"/><stop offset="0.8464" stop-color="#60bc8b"/><stop offset="0.8758" stop-color="#4fbb93"/><stop offset="0.8987" stop-color="#36b89f"/><stop offset="0.951" stop-color="#7fbe7c"/><stop offset="0.9739" stop-color="#dcbc52"/><stop offset="0.9902" stop-color="#e7c246"/><stop offset="1" stop-color="#e7c246"/></linearGradient>
<linearGradient id="g_B2_1" gradientUnits="userSpaceOnUse" x1="239.06" y1="239.06" x2="347.25" y2="347.25"><stop offset="0" stop-color="#38b99e"/><stop offset="0.0261" stop-color="#34b8a1"/><stop offset="0.0523" stop-color="#0ca9c1"/><stop offset="0.0948" stop-color="#128bd2"/><stop offset="0.1242" stop-color="#1388d3"/><stop offset="0.1536" stop-color="#1cafb4"/><stop offset="0.1634" stop-color="#2fb6a5"/><stop offset="0.1928" stop-color="#0a9eca"/><stop offset="0.2124" stop-color="#117ed7"/><stop offset="0.2451" stop-color="#107ed7"/><stop offset="0.2484" stop-color="#1486d4"/><stop offset="0.2745" stop-color="#118bd1"/><stop offset="0.2778" stop-color="#107dd7"/><stop offset="0.3039" stop-color="#0d78d9"/><stop offset="0.3693" stop-color="#184bbb"/><stop offset="0.402" stop-color="#0d77da"/><stop offset="0.4248" stop-color="#184cbc"/><stop offset="0.451" stop-color="#0e79d9"/><stop offset="0.4837" stop-color="#118bd1"/><stop offset="0.5098" stop-color="#07a7c5"/><stop offset="0.5392" stop-color="#0e93ce"/><stop offset="0.5784" stop-color="#16adb9"/><stop offset="0.6046" stop-color="#21b1b0"/><stop offset="0.6307" stop-color="#11abbd"/><stop offset="0.6928" stop-color="#7fbe7c"/><stop offset="0.7222" stop-color="#5ebc8c"/><stop offset="0.7549" stop-color="#cbbb5c"/><stop offset="0.7843" stop-color="#e6c147"/><stop offset="0.8137" stop-color="#62bc8a"/><stop offset="0.8464" stop-color="#7dbe7d"/><stop offset="0.8856" stop-color="#32b7a3"/><stop offset="0.9085" stop-color="#27b3ab"/><stop offset="0.9412" stop-color="#71bd83"/><stop offset="0.9804" stop-color="#e7c246"/><stop offset="1" stop-color="#e7c246"/></linearGradient>
<linearGradient id="mg_B2_1" gradientUnits="userSpaceOnUse" x1="31.82" y1="-31.82" x2="96.17" y2="-96.17"><stop offset="0" stop-color="#000"/><stop offset="1" stop-color="#fff"/></linearGradient>
<mask id="m_B2_1" maskUnits="userSpaceOnUse" x="0" y="0" width="484" height="550"><rect x="281.75" y="144" width="161.75" height="107" fill="url(#mg_B2_1)"/></mask>
<linearGradient id="g_B2_2" gradientUnits="userSpaceOnUse" x1="239.06" y1="239.06" x2="347.25" y2="347.25"><stop offset="0" stop-color="#38b99e"/><stop offset="0.0261" stop-color="#34b8a1"/><stop offset="0.0523" stop-color="#0ba9c2"/><stop offset="0.0948" stop-color="#108ed0"/><stop offset="0.1242" stop-color="#108ed0"/><stop offset="0.1503" stop-color="#1aaeb6"/><stop offset="0.1667" stop-color="#25b2ad"/><stop offset="0.2026" stop-color="#108fd0"/><stop offset="0.2124" stop-color="#1281d5"/><stop offset="0.2451" stop-color="#1282d5"/><stop offset="0.2484" stop-color="#0f92cf"/><stop offset="0.2908" stop-color="#0d95cd"/><stop offset="0.3203" stop-color="#07a5c7"/><stop offset="0.3497" stop-color="#1486d4"/><stop offset="0.3889" stop-color="#06a7c6"/><stop offset="0.415" stop-color="#118dd1"/><stop offset="0.4477" stop-color="#09a8c4"/><stop offset="0.5033" stop-color="#0ca9c1"/><stop offset="0.5294" stop-color="#0da9c1"/><stop offset="0.5556" stop-color="#2fb6a5"/><stop offset="0.5915" stop-color="#11abbd"/><stop offset="0.6242" stop-color="#37b99e"/><stop offset="0.6634" stop-color="#27b3ac"/><stop offset="0.7124" stop-color="#51bb92"/><stop offset="0.7418" stop-color="#70bd83"/><stop offset="0.7647" stop-color="#aebd67"/><stop offset="0.7712" stop-color="#c1bc60"/><stop offset="0.7876" stop-color="#7bbd7e"/><stop offset="0.7974" stop-color="#2eb6a6"/><stop offset="0.8039" stop-color="#2bb4a9"/><stop offset="0.8268" stop-color="#42ba99"/><stop offset="0.8627" stop-color="#24b2ae"/><stop offset="0.9052" stop-color="#33b7a2"/><stop offset="0.9542" stop-color="#90bf74"/><stop offset="0.9771" stop-color="#e1be4d"/><stop offset="0.9967" stop-color="#e7c246"/><stop offset="1" stop-color="#e7c246"/></linearGradient>
<linearGradient id="mg_B2_2" gradientUnits="userSpaceOnUse" x1="96.17" y1="-96.17" x2="141.42" y2="-141.42"><stop offset="0" stop-color="#000"/><stop offset="1" stop-color="#fff"/></linearGradient>
<mask id="m_B2_2" maskUnits="userSpaceOnUse" x="0" y="0" width="484" height="550"><rect x="281.75" y="144" width="161.75" height="107" fill="url(#mg_B2_2)"/></mask>
<linearGradient id="sg_B2_0" gradientUnits="userSpaceOnUse" x1="312" y1="256" x2="404" y2="156"><stop offset="0" stop-color="#0567df"/><stop offset="0.33" stop-color="#0d58cf"/><stop offset="0.67" stop-color="#0d58cf"/><stop offset="1" stop-color="#0a72db"/></linearGradient>
<filter id="bl_2_50" filterUnits="userSpaceOnUse" x="0" y="0" width="484" height="550"><feGaussianBlur stdDeviation="2.5"/></filter>
<linearGradient id="sg_B2_1" gradientUnits="userSpaceOnUse" x1="318" y1="252" x2="401" y2="161"><stop offset="0" stop-color="#2141ab"/><stop offset="0.33" stop-color="#312f8e"/><stop offset="0.67" stop-color="#312f8e"/><stop offset="1" stop-color="#154ec1"/></linearGradient>
<filter id="bl_1_40" filterUnits="userSpaceOnUse" x="0" y="0" width="484" height="550"><feGaussianBlur stdDeviation="1.4"/></filter>
<linearGradient id="sg_B2_2" gradientUnits="userSpaceOnUse" x1="386" y1="252" x2="443" y2="203"><stop offset="0" stop-color="#f9fb0e"/><stop offset="0.5" stop-color="#f5ca36"/><stop offset="1" stop-color="#d9ba56"/></linearGradient>
<filter id="bl_1_50" filterUnits="userSpaceOnUse" x="0" y="0" width="484" height="550"><feGaussianBlur stdDeviation="1.5"/></filter>
<linearGradient id="cb_B2" x1="0" y1="0" x2="0" y2="1"><stop offset="0" stop-color="#f9fb0e"/><stop offset="0.06" stop-color="#fae41e"/><stop offset="0.12" stop-color="#fcce2e"/><stop offset="0.19" stop-color="#eac442"/><stop offset="0.25" stop-color="#d9ba56"/><stop offset="0.31" stop-color="#b6bc64"/><stop offset="0.38" stop-color="#92bf73"/><stop offset="0.44" stop-color="#65bc88"/><stop offset="0.5" stop-color="#38b99e"/><stop offset="0.56" stop-color="#1fb0b2"/><stop offset="0.62" stop-color="#06a7c6"/><stop offset="0.69" stop-color="#0d96cd"/><stop offset="0.75" stop-color="#1485d4"/><stop offset="0.81" stop-color="#0c74da"/><stop offset="0.88" stop-color="#0363e1"/><stop offset="0.94" stop-color="#1c46b4"/><stop offset="1" stop-color="#352a87"/></linearGradient>
<clipPath id="clip_C1"><polygon points="10.75,338.25 63.75,338.25 116.25,285.75 169,285.75 169,390.75 10.75,390.75"/></clipPath>
<linearGradient id="g_C1_0" gradientUnits="userSpaceOnUse" x1="170.5" y1="0" x2="9.5" y2="0"><stop offset="0" stop-color="#24b2ae"/><stop offset="0.028" stop-color="#24b2ae"/><stop offset="0.0528" stop-color="#7abd7e"/><stop offset="0.0652" stop-color="#e7c246"/><stop offset="0.0807" stop-color="#fbdf22"/><stop offset="0.0963" stop-color="#d6ba57"/><stop offset="0.118" stop-color="#a3be6c"/><stop offset="0.1398" stop-color="#8fbf75"/><stop offset="0.1646" stop-color="#2db5a7"/><stop offset="0.2112" stop-color="#0f92cf"/><stop offset="0.2453" stop-color="#0e78d9"/><stop offset="0.2764" stop-color="#118bd1"/><stop offset="0.3043" stop-color="#0d76da"/><stop offset="0.3199" stop-color="#174dbe"/><stop offset="0.3323" stop-color="#29389d"/><stop offset="0.354" stop-color="#1485d4"/><stop offset="0.3571" stop-color="#107ed7"/><stop offset="0.382" stop-color="#118bd1"/><stop offset="0.4099" stop-color="#08a8c4"/><stop offset="0.441" stop-color="#1382d5"/><stop offset="0.472" stop-color="#09a0c9"/><stop offset="0.5" stop-color="#1485d4"/><stop offset="0.5217" stop-color="#0e93ce"/><stop offset="0.5559" stop-color="#107dd7"/><stop offset="0.5932" stop-color="#10abbe"/><stop offset="0.6056" stop-color="#30b6a4"/><stop offset="0.6491" stop-color="#1382d5"/><stop offset="0.6832" stop-color="#118dd1"/><stop offset="0.6894" stop-color="#108ed0"/><stop offset="0.6925" stop-color="#08a1c8"/><stop offset="0.736" stop-color="#33b7a2"/><stop offset="0.7733" stop-color="#1bafb5"/><stop offset="0.8416" stop-color="#0c74da"/><stop offset="0.8571" stop-color="#0669df"/><stop offset="0.8665" stop-color="#1e44b1"/><stop offset="0.8789" stop-color="#2a379b"/><stop offset="0.8975" stop-color="#065fdb"/><stop offset="0.9099" stop-color="#0d77d9"/><stop offset="0.9441" stop-color="#107dd7"/><stop offset="0.972" stop-color="#07a7c5"/><stop offset="0.9783" stop-color="#28b3ab"/><stop offset="0.9845" stop-color="#64bc89"/><stop offset="1" stop-color="#68bc87"/></linearGradient>
<linearGradient id="g_C1_1" gradientUnits="userSpaceOnUse" x1="170.5" y1="0" x2="9.5" y2="0"><stop offset="0" stop-color="#24b2ae"/><stop offset="0.028" stop-color="#24b2ae"/><stop offset="0.0528" stop-color="#7bbd7e"/><stop offset="0.0652" stop-color="#e7c246"/><stop offset="0.0807" stop-color="#fbdf22"/><stop offset="0.0963" stop-color="#d6ba57"/><stop offset="0.118" stop-color="#a3be6c"/><stop offset="0.1398" stop-color="#8fbf75"/><stop offset="0.1646" stop-color="#2db5a7"/><stop offset="0.2112" stop-color="#0f92cf"/><stop offset="0.2453" stop-color="#0e78d9"/><stop offset="0.2764" stop-color="#118bd1"/><stop offset="0.3043" stop-color="#0d76da"/><stop offset="0.3199" stop-color="#174cbd"/><stop offset="0.3323" stop-color="#29389d"/><stop offset="0.354" stop-color="#1485d4"/><stop offset="0.3571" stop-color="#107ed7"/><stop offset="0.382" stop-color="#118bd1"/><stop offset="0.4099" stop-color="#08a8c4"/><stop offset="0.441" stop-color="#1382d5"/><stop offset="0.472" stop-color="#09a0c9"/><stop offset="0.5" stop-color="#1485d4"/><stop offset="0.5217" stop-color="#0e93ce"/><stop offset="0.5559" stop-color="#107dd7"/><stop offset="0.5932" stop-color="#10abbe"/><stop offset="0.6056" stop-color="#30b6a4"/><stop offset="0.6491" stop-color="#1382d5"/><stop offset="0.6832" stop-color="#118dd1"/><stop offset="0.6894" stop-color="#108ed0"/><stop offset="0.6925" stop-color="#08a1c8"/><stop offset="0.736" stop-color="#34b8a1"/><stop offset="0.7764" stop-color="#18adb8"/><stop offset="0.8385" stop-color="#0d76da"/><stop offset="0.8571" stop-color="#0669df"/><stop offset="0.8665" stop-color="#1e45b1"/><stop offset="0.8789" stop-color="#2a379c"/><stop offset="0.8975" stop-color="#0660dc"/><stop offset="0.9099" stop-color="#0d77d9"/><stop offset="0.9441" stop-color="#107dd7"/><stop offset="0.972" stop-color="#06a7c6"/><stop offset="0.9783" stop-color="#27b3ac"/><stop offset="0.9845" stop-color="#61bc8a"/><stop offset="1" stop-color="#65bc89"/></linearGradient>
<linearGradient id="mg_C1_1" gradientUnits="userSpaceOnUse" x1="0" y1="285.75" x2="0" y2="306.75"><stop offset="0" stop-color="#000"/><stop offset="1" stop-color="#fff"/></linearGradient>
<mask id="m_C1_1" maskUnits="userSpaceOnUse" x="0" y="0" width="484" height="550"><rect x="9.75" y="284.75" width="160.25" height="107" fill="url(#mg_C1_1)"/></mask>
<linearGradient id="g_C1_2" gradientUnits="userSpaceOnUse" x1="170.5" y1="0" x2="9.5" y2="0"><stop offset="0" stop-color="#2ab4a9"/><stop offset="0.0217" stop-color="#24b2ae"/><stop offset="0.0342" stop-color="#1eb0b3"/><stop offset="0.0559" stop-color="#46ba97"/><stop offset="0.0683" stop-color="#b1bd66"/><stop offset="0.0807" stop-color="#e0be4e"/><stop offset="0.1025" stop-color="#d0bb5a"/><stop offset="0.1335" stop-color="#c7bb5d"/><stop offset="0.1739" stop-color="#26b3ac"/><stop offset="0.2329" stop-color="#0f7cd8"/><stop offset="0.2516" stop-color="#1484d4"/><stop offset="0.2764" stop-color="#0e94ce"/><stop offset="0.2888" stop-color="#1090d0"/><stop offset="0.3106" stop-color="#0b74db"/><stop offset="0.3261" stop-color="#1a49b8"/><stop offset="0.3323" stop-color="#2141ab"/><stop offset="0.3478" stop-color="#086edd"/><stop offset="0.354" stop-color="#117ed7"/><stop offset="0.3665" stop-color="#1280d6"/><stop offset="0.3851" stop-color="#108fd0"/><stop offset="0.4099" stop-color="#0ca9c1"/><stop offset="0.441" stop-color="#117fd6"/><stop offset="0.472" stop-color="#09a0c9"/><stop offset="0.5" stop-color="#1485d4"/><stop offset="0.5217" stop-color="#0e93ce"/><stop offset="0.5559" stop-color="#107dd7"/><stop offset="0.5963" stop-color="#1cafb5"/><stop offset="0.6056" stop-color="#34b7a2"/><stop offset="0.6491" stop-color="#117fd6"/><stop offset="0.6894" stop-color="#0b9bcb"/><stop offset="0.705" stop-color="#0daac0"/><stop offset="0.736" stop-color="#36b8a0"/><stop offset="0.7764" stop-color="#18aeb7"/><stop offset="0.8385" stop-color="#0d76da"/><stop offset="0.8571" stop-color="#066ade"/><stop offset="0.8665" stop-color="#1d45b2"/><stop offset="0.8789" stop-color="#29379c"/><stop offset="0.8975" stop-color="#0560dd"/><stop offset="0.9099" stop-color="#0d77d9"/><stop offset="0.9441" stop-color="#107dd7"/><stop offset="0.972" stop-color="#06a6c6"/><stop offset="0.9783" stop-color="#25b2ad"/><stop offset="0.9845" stop-color="#5fbc8c"/><stop offset="1" stop-color="#61bc8a"/></linearGradient>
<linearGradient id="mg_C1_2" gradientUnits="userSpaceOnUse" x1="0" y1="306.75" x2="0" y2="327.75"><stop offset="0" stop-color="#000"/><stop offset="1" stop-color="#fff"/></linearGradient>
<mask id="m_C1_2" maskUnits="userSpaceOnUse" x="0" y="0" width="484" height="550"><rect x="9.75" y="284.75" width="160.25" height="107" fill="url(#mg_C1_2)"/></mask>
<linearGradient id="g_C1_3" gradientUnits="userSpaceOnUse" x1="170.5" y1="0" x2="9.5" y2="0"><stop offset="0" stop-color="#30b6a5"/><stop offset="0.0155" stop-color="#30b6a4"/><stop offset="0.0373" stop-color="#0aa8c3"/><stop offset="0.059" stop-color="#1eb0b3"/><stop offset="0.0745" stop-color="#89be77"/><stop offset="0.0963" stop-color="#d1bb59"/><stop offset="0.118" stop-color="#e7c246"/><stop offset="0.1335" stop-color="#e7c246"/><stop offset="0.1708" stop-color="#36b8a0"/><stop offset="0.2329" stop-color="#0d77d9"/><stop offset="0.2671" stop-color="#0d97cd"/><stop offset="0.2857" stop-color="#09a0c9"/><stop offset="0.3168" stop-color="#0a72db"/><stop offset="0.3261" stop-color="#154ec1"/><stop offset="0.3354" stop-color="#1d45b2"/><stop offset="0.354" stop-color="#0d77d9"/><stop offset="0.382" stop-color="#118cd1"/><stop offset="0.4099" stop-color="#10abbe"/><stop offset="0.441" stop-color="#107dd7"/><stop offset="0.472" stop-color="#09a0c9"/><stop offset="0.5" stop-color="#1485d4"/><stop offset="0.5217" stop-color="#0e93ce"/><stop offset="0.5559" stop-color="#107dd7"/><stop offset="0.5994" stop-color="#28b3ab"/><stop offset="0.6056" stop-color="#38b99e"/><stop offset="0.6491" stop-color="#107dd7"/><stop offset="0.736" stop-color="#37b99f"/><stop offset="0.7764" stop-color="#19aeb7"/><stop offset="0.8385" stop-color="#0d76da"/><stop offset="0.8571" stop-color="#066ade"/><stop offset="0.8665" stop-color="#1d45b2"/><stop offset="0.8789" stop-color="#29389d"/><stop offset="0.8975" stop-color="#0561dd"/><stop offset="0.9099" stop-color="#0d77d9"/><stop offset="0.9441" stop-color="#107dd7"/><stop offset="0.972" stop-color="#07a6c7"/><stop offset="0.9783" stop-color="#24b2ae"/><stop offset="0.9845" stop-color="#5cbb8d"/><stop offset="1" stop-color="#5dbb8c"/></linearGradient>
<linearGradient id="mg_C1_3" gradientUnits="userSpaceOnUse" x1="0" y1="327.75" x2="0" y2="348.75"><stop offset="0" stop-color="#000"/><stop offset="1" stop-color="#fff"/></linearGradient>
<mask id="m_C1_3" maskUnits="userSpaceOnUse" x="0" y="0" width="484" height="550"><rect x="9.75" y="284.75" width="160.25" height="107" fill="url(#mg_C1_3)"/></mask>
<linearGradient id="g_C1_4" gradientUnits="userSpaceOnUse" x1="170.5" y1="0" x2="9.5" y2="0"><stop offset="0" stop-color="#29b4aa"/><stop offset="0.0248" stop-color="#21b1b0"/><stop offset="0.0404" stop-color="#1cafb5"/><stop offset="0.0559" stop-color="#26b2ad"/><stop offset="0.0745" stop-color="#8cbf76"/><stop offset="0.1025" stop-color="#b6bc64"/><stop offset="0.1242" stop-color="#dbbb53"/><stop offset="0.1335" stop-color="#dcbc52"/><stop offset="0.1522" stop-color="#97bf71"/><stop offset="0.1708" stop-color="#31b7a3"/><stop offset="0.2329" stop-color="#0d77d9"/><stop offset="0.2671" stop-color="#0d97cd"/><stop offset="0.2857" stop-color="#09a0c9"/><stop offset="0.3137" stop-color="#0d76da"/><stop offset="0.3261" stop-color="#1350c3"/><stop offset="0.3354" stop-color="#1a49b8"/><stop offset="0.354" stop-color="#117fd6"/><stop offset="0.3634" stop-color="#117fd6"/><stop offset="0.382" stop-color="#118cd1"/><stop offset="0.4099" stop-color="#0ba9c2"/><stop offset="0.441" stop-color="#107dd7"/><stop offset="0.472" stop-color="#0a9dca"/><stop offset="0.5" stop-color="#1485d4"/><stop offset="0.5217" stop-color="#0e93ce"/><stop offset="0.5559" stop-color="#107dd7"/><stop offset="0.5994" stop-color="#1eb0b3"/><stop offset="0.6056" stop-color="#2cb5a7"/><stop offset="0.6491" stop-color="#107dd7"/><stop offset="0.736" stop-color="#2cb5a8"/><stop offset="0.7733" stop-color="#17adb9"/><stop offset="0.8478" stop-color="#096fdc"/><stop offset="0.8571" stop-color="#0668df"/><stop offset="0.8665" stop-color="#1f43ae"/><stop offset="0.8789" stop-color="#2b3598"/><stop offset="0.8944" stop-color="#1153c8"/><stop offset="0.9099" stop-color="#0d77d9"/><stop offset="0.9441" stop-color="#107dd7"/><stop offset="0.9658" stop-color="#099fc9"/><stop offset="0.9752" stop-color="#1aaeb6"/><stop offset="0.9845" stop-color="#71bd83"/><stop offset="1" stop-color="#78bd7f"/></linearGradient>
<linearGradient id="mg_C1_4" gradientUnits="userSpaceOnUse" x1="0" y1="348.75" x2="0" y2="369.75"><stop offset="0" stop-color="#000"/><stop offset="1" stop-color="#fff"/></linearGradient>
<mask id="m_C1_4" maskUnits="userSpaceOnUse" x="0" y="0" width="484" height="550"><rect x="9.75" y="284.75" width="160.25" height="107" fill="url(#mg_C1_4)"/></mask>
<linearGradient id="g_C1_5" gradientUnits="userSpaceOnUse" x1="170.5" y1="0" x2="9.5" y2="0"><stop offset="0" stop-color="#24b2ae"/><stop offset="0.0435" stop-color="#29b4aa"/><stop offset="0.0559" stop-color="#30b6a5"/><stop offset="0.0714" stop-color="#87be78"/><stop offset="0.0963" stop-color="#86be79"/><stop offset="0.1211" stop-color="#c7bb5d"/><stop offset="0.1304" stop-color="#d9ba56"/><stop offset="0.1491" stop-color="#a1be6d"/><stop offset="0.1677" stop-color="#34b8a1"/><stop offset="0.2143" stop-color="#118cd1"/><stop offset="0.2329" stop-color="#0d77d9"/><stop offset="0.2671" stop-color="#0d97cd"/><stop offset="0.2857" stop-color="#099fc9"/><stop offset="0.3106" stop-color="#107dd7"/><stop offset="0.323" stop-color="#0e57cd"/><stop offset="0.3323" stop-color="#1b47b5"/><stop offset="0.3447" stop-color="#066ade"/><stop offset="0.354" stop-color="#1485d4"/><stop offset="0.3571" stop-color="#107ed7"/><stop offset="0.382" stop-color="#118bd1"/><stop offset="0.4099" stop-color="#08a8c4"/><stop offset="0.441" stop-color="#107dd7"/><stop offset="0.472" stop-color="#0b9bcb"/><stop offset="0.5" stop-color="#1485d4"/><stop offset="0.5217" stop-color="#0e93ce"/><stop offset="0.5559" stop-color="#107dd7"/><stop offset="0.5994" stop-color="#17adb9"/><stop offset="0.6056" stop-color="#24b2ae"/><stop offset="0.6491" stop-color="#107dd7"/><stop offset="0.736" stop-color="#23b2ae"/><stop offset="0.7733" stop-color="#12abbc"/><stop offset="0.8571" stop-color="#0567df"/><stop offset="0.8665" stop-color="#2141ab"/><stop offset="0.8789" stop-color="#2d3395"/><stop offset="0.8944" stop-color="#1450c3"/><stop offset="0.9099" stop-color="#0d77d9"/><stop offset="0.9441" stop-color="#107dd7"/><stop offset="0.9627" stop-color="#0b9acb"/><stop offset="0.9752" stop-color="#20b0b1"/><stop offset="0.9845" stop-color="#80be7c"/><stop offset="0.9969" stop-color="#8ebf75"/><stop offset="1" stop-color="#8dbf75"/></linearGradient>
<linearGradient id="mg_C1_5" gradientUnits="userSpaceOnUse" x1="0" y1="369.75" x2="0" y2="390.75"><stop offset="0" stop-color="#000"/><stop offset="1" stop-color="#fff"/></linearGradient>
<mask id="m_C1_5" maskUnits="userSpaceOnUse" x="0" y="0" width="484" height="550"><rect x="9.75" y="284.75" width="160.25" height="107" fill="url(#mg_C1_5)"/></mask>
<linearGradient id="cb_C1" x1="0" y1="0" x2="0" y2="1"><stop offset="0" stop-color="#f9fb0e"/><stop offset="0.06" stop-color="#fae41e"/><stop offset="0.12" stop-color="#fcce2e"/><stop offset="0.19" stop-color="#eac442"/><stop offset="0.25" stop-color="#d9ba56"/><stop offset="0.31" stop-color="#b6bc64"/><stop offset="0.38" stop-color="#92bf73"/><stop offset="0.44" stop-color="#65bc88"/><stop offset="0.5" stop-color="#38b99e"/><stop offset="0.56" stop-color="#1fb0b2"/><stop offset="0.62" stop-color="#06a7c6"/><stop offset="0.69" stop-color="#0d96cd"/><stop offset="0.75" stop-color="#1485d4"/><stop offset="0.81" stop-color="#0c74da"/><stop offset="0.88" stop-color="#0363e1"/><stop offset="0.94" stop-color="#1c46b4"/><stop offset="1" stop-color="#352a87"/></linearGradient>
<clipPath id="clip_C2"><polygon points="10.75,470.25 63.75,470.25 116.25,417.75 169,417.75 169,522.75 10.75,522.75"/></clipPath>
<linearGradient id="g_C2_0" gradientUnits="userSpaceOnUse" x1="170.5" y1="0" x2="9.5" y2="0"><stop offset="0" stop-color="#10abbe"/><stop offset="0.0342" stop-color="#18adb8"/><stop offset="0.0528" stop-color="#5cbb8d"/><stop offset="0.0714" stop-color="#72bd82"/><stop offset="0.0963" stop-color="#0daac0"/><stop offset="0.1149" stop-color="#107dd7"/><stop offset="0.1553" stop-color="#076bde"/><stop offset="0.2019" stop-color="#107dd7"/><stop offset="0.2267" stop-color="#18adb8"/><stop offset="0.2391" stop-color="#71bd83"/><stop offset="0.2578" stop-color="#8ebf75"/><stop offset="0.2764" stop-color="#38b99e"/><stop offset="0.2888" stop-color="#09a0c9"/><stop offset="0.3137" stop-color="#1485d4"/><stop offset="0.3323" stop-color="#5cbb8d"/><stop offset="0.3416" stop-color="#e7c246"/><stop offset="0.3571" stop-color="#edc540"/><stop offset="0.3696" stop-color="#5cbb8d"/><stop offset="0.382" stop-color="#10abbe"/><stop offset="0.4006" stop-color="#5cbb8d"/><stop offset="0.413" stop-color="#d9ba56"/><stop offset="0.4255" stop-color="#f5ca36"/><stop offset="0.4379" stop-color="#edc53f"/><stop offset="0.4565" stop-color="#38b99e"/><stop offset="0.4752" stop-color="#80be7c"/><stop offset="0.4938" stop-color="#e7c246"/><stop offset="0.5124" stop-color="#e7c246"/><stop offset="0.5311" stop-color="#a0be6d"/><stop offset="0.5435" stop-color="#24b2ae"/><stop offset="0.5652" stop-color="#099fc9"/><stop offset="0.6304" stop-color="#1485d4"/><stop offset="0.705" stop-color="#1485d4"/><stop offset="0.7081" stop-color="#128ad2"/><stop offset="0.7267" stop-color="#076ade"/><stop offset="0.736" stop-color="#154ec1"/><stop offset="0.7764" stop-color="#0669df"/><stop offset="0.8043" stop-color="#0a5bd5"/><stop offset="0.8168" stop-color="#1d45b2"/><stop offset="0.8416" stop-color="#0a72db"/><stop offset="0.8634" stop-color="#154ec1"/><stop offset="0.8696" stop-color="#253ca4"/><stop offset="0.8851" stop-color="#164ebf"/><stop offset="0.9006" stop-color="#076bde"/><stop offset="0.9286" stop-color="#0d77d9"/><stop offset="0.9472" stop-color="#08a3c8"/><stop offset="0.9658" stop-color="#08a3c8"/><stop offset="0.9783" stop-color="#1485d4"/><stop offset="0.9969" stop-color="#107dd7"/><stop offset="1" stop-color="#107dd7"/></linearGradient>
<linearGradient id="g_C2_1" gradientUnits="userSpaceOnUse" x1="170.5" y1="0" x2="9.5" y2="0"><stop offset="0" stop-color="#10abbe"/><stop offset="0.0342" stop-color="#18adb8"/><stop offset="0.0528" stop-color="#5cbb8d"/><stop offset="0.0714" stop-color="#72bd82"/><stop offset="0.0963" stop-color="#0daac0"/><stop offset="0.1149" stop-color="#107dd7"/><stop offset="0.1553" stop-color="#076bde"/><stop offset="0.2019" stop-color="#107dd7"/><stop offset="0.2267" stop-color="#18adb8"/><stop offset="0.2391" stop-color="#72bd82"/><stop offset="0.2578" stop-color="#8ebf75"/><stop offset="0.2764" stop-color="#38b99e"/><stop offset="0.2888" stop-color="#09a0c9"/><stop offset="0.3137" stop-color="#1485d4"/><stop offset="0.3323" stop-color="#5cbb8d"/><stop offset="0.3416" stop-color="#e7c246"/><stop offset="0.3571" stop-color="#edc540"/><stop offset="0.3696" stop-color="#5cbb8d"/><stop offset="0.382" stop-color="#10abbe"/><stop offset="0.4006" stop-color="#5cbb8d"/><stop offset="0.413" stop-color="#d9ba56"/><stop offset="0.4255" stop-color="#f5ca36"/><stop offset="0.4379" stop-color="#edc540"/><stop offset="0.4565" stop-color="#38b99e"/><stop offset="0.4752" stop-color="#80be7c"/><stop offset="0.4938" stop-color="#e7c246"/><stop offset="0.5124" stop-color="#e7c246"/><stop offset="0.5311" stop-color="#a0be6d"/><stop offset="0.5435" stop-color="#24b2ae"/><stop offset="0.5652" stop-color="#099fc9"/><stop offset="0.6304" stop-color="#1485d4"/><stop offset="0.705" stop-color="#1485d4"/><stop offset="0.7081" stop-color="#128ad2"/><stop offset="0.7267" stop-color="#076ade"/><stop offset="0.736" stop-color="#154ec1"/><stop offset="0.7764" stop-color="#0669df"/><stop offset="0.8043" stop-color="#0a5bd5"/><stop offset="0.8168" stop-color="#1d45b2"/><stop offset="0.8416" stop-color="#0a72db"/><stop offset="0.8634" stop-color="#154ec1"/><stop offset="0.8696" stop-color="#253ca4"/><stop offset="0.8851" stop-color="#164ebf"/><stop offset="0.9006" stop-color="#076bde"/><stop offset="0.9286" stop-color="#0d77d9"/><stop offset="0.9472" stop-color="#08a3c8"/><stop offset="0.9658" stop-color="#08a3c8"/><stop offset="0.9783" stop-color="#1485d4"/><stop offset="0.9969" stop-color="#107dd7"/><stop offset="1" stop-color="#107dd7"/></linearGradient>
<linearGradient id="mg_C2_1" gradientUnits="userSpaceOnUse" x1="0" y1="417.75" x2="0" y2="438.75"><stop offset="0" stop-color="#000"/><stop offset="1" stop-color="#fff"/></linearGradient>
<mask id="m_C2_1" maskUnits="userSpaceOnUse" x="0" y="0" width="484" height="550"><rect x="9.75" y="416.75" width="160.25" height="107" fill="url(#mg_C2_1)"/></mask>
<linearGradient id="g_C2_2" gradientUnits="userSpaceOnUse" x1="170.5" y1="0" x2="9.5" y2="0"><stop offset="0" stop-color="#10abbe"/><stop offset="0.0342" stop-color="#18adb8"/><stop offset="0.0528" stop-color="#5ebc8c"/><stop offset="0.0714" stop-color="#73bd82"/><stop offset="0.0963" stop-color="#0daac0"/><stop offset="0.1149" stop-color="#107dd7"/><stop offset="0.1553" stop-color="#066ade"/><stop offset="0.2019" stop-color="#107dd7"/><stop offset="0.2267" stop-color="#17adb8"/><stop offset="0.2391" stop-color="#70bd83"/><stop offset="0.2578" stop-color="#8cbf76"/><stop offset="0.2764" stop-color="#38b99e"/><stop offset="0.2888" stop-color="#08a1c8"/><stop offset="0.3137" stop-color="#1486d4"/><stop offset="0.3323" stop-color="#5cbb8d"/><stop offset="0.3416" stop-color="#e8c345"/><stop offset="0.3571" stop-color="#edc63f"/><stop offset="0.3696" stop-color="#5cbb8d"/><stop offset="0.382" stop-color="#10abbe"/><stop offset="0.4006" stop-color="#5cbb8d"/><stop offset="0.413" stop-color="#dbbb54"/><stop offset="0.4255" stop-color="#f8cb33"/><stop offset="0.4379" stop-color="#eec63e"/><stop offset="0.4565" stop-color="#38b99e"/><stop offset="0.4752" stop-color="#81be7b"/><stop offset="0.4938" stop-color="#e8c345"/><stop offset="0.5124" stop-color="#e8c245"/><stop offset="0.5311" stop-color="#a2be6c"/><stop offset="0.5435" stop-color="#24b2ae"/><stop offset="0.5652" stop-color="#0a9eca"/><stop offset="0.6335" stop-color="#1383d5"/><stop offset="0.7081" stop-color="#128ad2"/><stop offset="0.7267" stop-color="#076ade"/><stop offset="0.736" stop-color="#154ec1"/><stop offset="0.7764" stop-color="#0669df"/><stop offset="0.8043" stop-color="#0a5bd5"/><stop offset="0.8168" stop-color="#1d45b2"/><stop offset="0.8416" stop-color="#0a72db"/><stop offset="0.8634" stop-color="#154ec1"/><stop offset="0.8696" stop-color="#253ca4"/><stop offset="0.8851" stop-color="#164ebf"/><stop offset="0.9006" stop-color="#076bde"/><stop offset="0.9286" stop-color="#0d77d9"/><stop offset="0.9472" stop-color="#08a3c8"/><stop offset="0.9658" stop-color="#08a3c8"/><stop offset="0.9783" stop-color="#1485d4"/><stop offset="0.9969" stop-color="#107dd7"/><stop offset="1" stop-color="#107dd7"/></linearGradient>
<linearGradient id="mg_C2_2" gradientUnits="userSpaceOnUse" x1="0" y1="438.75" x2="0" y2="459.75"><stop offset="0" stop-color="#000"/><stop offset="1" stop-color="#fff"/></linearGradient>
<mask id="m_C2_2" maskUnits="userSpaceOnUse" x="0" y="0" width="484" height="550"><rect x="9.75" y="416.75" width="160.25" height="107" fill="url(#mg_C2_2)"/></mask>
<linearGradient id="g_C2_3" gradientUnits="userSpaceOnUse" x1="170.5" y1="0" x2="9.5" y2="0"><stop offset="0" stop-color="#10abbe"/><stop offset="0.0342" stop-color="#18adb8"/><stop offset="0.0528" stop-color="#70bd83"/><stop offset="0.0714" stop-color="#7fbe7c"/><stop offset="0.1087" stop-color="#118cd1"/><stop offset="0.118" stop-color="#0e7ad8"/><stop offset="0.1522" stop-color="#1351c4"/><stop offset="0.1832" stop-color="#0a72db"/><stop offset="0.2019" stop-color="#107dd7"/><stop offset="0.2267" stop-color="#11abbe"/><stop offset="0.2391" stop-color="#5dbb8c"/><stop offset="0.2578" stop-color="#74bd82"/><stop offset="0.2795" stop-color="#2eb5a6"/><stop offset="0.2919" stop-color="#0aa8c3"/><stop offset="0.3137" stop-color="#0f92cf"/><stop offset="0.3323" stop-color="#5cbb8d"/><stop offset="0.3416" stop-color="#f4c937"/><stop offset="0.3571" stop-color="#f4ca37"/><stop offset="0.3696" stop-color="#5cbb8d"/><stop offset="0.382" stop-color="#10abbe"/><stop offset="0.4006" stop-color="#5cbb8d"/><stop offset="0.413" stop-color="#f3c938"/><stop offset="0.4255" stop-color="#faed18"/><stop offset="0.4379" stop-color="#fcd529"/><stop offset="0.4565" stop-color="#38b99e"/><stop offset="0.4752" stop-color="#8dbf75"/><stop offset="0.4938" stop-color="#f4c937"/><stop offset="0.5124" stop-color="#f1c83a"/><stop offset="0.5311" stop-color="#bbbc62"/><stop offset="0.5435" stop-color="#24b2ae"/><stop offset="0.5621" stop-color="#0b9bcb"/><stop offset="0.5932" stop-color="#108ed0"/><stop offset="0.6366" stop-color="#076cde"/><stop offset="0.6491" stop-color="#095cd6"/><stop offset="0.6894" stop-color="#108ed0"/><stop offset="0.7019" stop-color="#0f92cf"/><stop offset="0.7267" stop-color="#076ade"/><stop offset="0.736" stop-color="#154ec1"/><stop offset="0.7764" stop-color="#0669df"/><stop offset="0.8043" stop-color="#0a5bd5"/><stop offset="0.8168" stop-color="#1d45b2"/><stop offset="0.8416" stop-color="#0a72db"/><stop offset="0.8634" stop-color="#154ec1"/><stop offset="0.8696" stop-color="#253ca4"/><stop offset="0.8851" stop-color="#164ebf"/><stop offset="0.9006" stop-color="#076bde"/><stop offset="0.9286" stop-color="#0d77d9"/><stop offset="0.9472" stop-color="#08a3c8"/><stop offset="0.9658" stop-color="#08a3c8"/><stop offset="0.9783" stop-color="#1485d4"/><stop offset="0.9969" stop-color="#107dd7"/><stop offset="1" stop-color="#107dd7"/></linearGradient>
<linearGradient id="mg_C2_3" gradientUnits="userSpaceOnUse" x1="0" y1="459.75" x2="0" y2="480.75"><stop offset="0" stop-color="#000"/><stop offset="1" stop-color="#fff"/></linearGradient>
<mask id="m_C2_3" maskUnits="userSpaceOnUse" x="0" y="0" width="484" height="550"><rect x="9.75" y="416.75" width="160.25" height="107" fill="url(#mg_C2_3)"/></mask>
<linearGradient id="g_C2_4" gradientUnits="userSpaceOnUse" x1="170.5" y1="0" x2="9.5" y2="0"><stop offset="0" stop-color="#10abbe"/><stop offset="0.0342" stop-color="#18adb8"/><stop offset="0.0528" stop-color="#72bd82"/><stop offset="0.0714" stop-color="#80be7c"/><stop offset="0.1087" stop-color="#118cd1"/><stop offset="0.118" stop-color="#0e7ad8"/><stop offset="0.1522" stop-color="#154ec1"/><stop offset="0.1832" stop-color="#0a71db"/><stop offset="0.2019" stop-color="#107dd7"/><stop offset="0.2267" stop-color="#10abbe"/><stop offset="0.2391" stop-color="#5cbb8d"/><stop offset="0.2578" stop-color="#72bd82"/><stop offset="0.2795" stop-color="#2eb5a6"/><stop offset="0.2919" stop-color="#0ba9c2"/><stop offset="0.3137" stop-color="#0e93ce"/><stop offset="0.3323" stop-color="#5cbb8d"/><stop offset="0.3416" stop-color="#f5ca36"/><stop offset="0.3571" stop-color="#f5ca36"/><stop offset="0.3696" stop-color="#5cbb8d"/><stop offset="0.382" stop-color="#10abbe"/><stop offset="0.4006" stop-color="#5cbb8d"/><stop offset="0.413" stop-color="#f5ca36"/><stop offset="0.4255" stop-color="#faf016"/><stop offset="0.4379" stop-color="#fbd728"/><stop offset="0.4565" stop-color="#38b99e"/><stop offset="0.4752" stop-color="#8ebf75"/><stop offset="0.4938" stop-color="#f5ca36"/><stop offset="0.5124" stop-color="#f2c839"/><stop offset="0.5311" stop-color="#bdbc62"/><stop offset="0.5435" stop-color="#24b2ae"/><stop offset="0.5621" stop-color="#0b9bcb"/><stop offset="0.5932" stop-color="#118dd1"/><stop offset="0.6335" stop-color="#086ddd"/><stop offset="0.6491" stop-color="#0d58cf"/><stop offset="0.6894" stop-color="#108ed0"/><stop offset="0.7019" stop-color="#0e93ce"/><stop offset="0.7267" stop-color="#076ade"/><stop offset="0.736" stop-color="#154ec1"/><stop offset="0.7764" stop-color="#0669df"/><stop offset="0.8043" stop-color="#0a5bd5"/><stop offset="0.8168" stop-color="#1d45b2"/><stop offset="0.8416" stop-color="#0a72db"/><stop offset="0.8634" stop-color="#154ec1"/><stop offset="0.8696" stop-color="#253ca4"/><stop offset="0.8851" stop-color="#164ebf"/><stop offset="0.9006" stop-color="#076bde"/><stop offset="0.9286" stop-color="#0d77d9"/><stop offset="0.9472" stop-color="#08a3c8"/><stop offset="0.9658" stop-color="#08a3c8"/><stop offset="0.9783" stop-color="#1485d4"/><stop offset="0.9969" stop-color="#107dd7"/><stop offset="1" stop-color="#107dd7"/></linearGradient>
<linearGradient id="mg_C2_4" gradientUnits="userSpaceOnUse" x1="0" y1="480.75" x2="0" y2="501.75"><stop offset="0" stop-color="#000"/><stop offset="1" stop-color="#fff"/></linearGradient>
<mask id="m_C2_4" maskUnits="userSpaceOnUse" x="0" y="0" width="484" height="550"><rect x="9.75" y="416.75" width="160.25" height="107" fill="url(#mg_C2_4)"/></mask>
<linearGradient id="g_C2_5" gradientUnits="userSpaceOnUse" x1="170.5" y1="0" x2="9.5" y2="0"><stop offset="0" stop-color="#10abbe"/><stop offset="0.0342" stop-color="#18adb8"/><stop offset="0.0528" stop-color="#71bd83"/><stop offset="0.0714" stop-color="#80be7c"/><stop offset="0.1087" stop-color="#118cd1"/><stop offset="0.118" stop-color="#0e7ad8"/><stop offset="0.1522" stop-color="#154fc1"/><stop offset="0.1832" stop-color="#0a71db"/><stop offset="0.2019" stop-color="#107dd7"/><stop offset="0.2267" stop-color="#10abbe"/><stop offset="0.2391" stop-color="#5cbb8d"/><stop offset="0.2578" stop-color="#72bd82"/><stop offset="0.2795" stop-color="#2eb5a6"/><stop offset="0.2919" stop-color="#0ba9c2"/><stop offset="0.3137" stop-color="#0e92ce"/><stop offset="0.3323" stop-color="#5cbb8d"/><stop offset="0.3416" stop-color="#f5ca36"/><stop offset="0.3571" stop-color="#f5ca36"/><stop offset="0.3696" stop-color="#5cbb8d"/><stop offset="0.382" stop-color="#10abbe"/><stop offset="0.4006" stop-color="#5cbb8d"/><stop offset="0.413" stop-color="#f5ca36"/><stop offset="0.4255" stop-color="#faf016"/><stop offset="0.4379" stop-color="#fbd728"/><stop offset="0.4565" stop-color="#38b99e"/><stop offset="0.4752" stop-color="#8ebf75"/><stop offset="0.4938" stop-color="#f5ca36"/><stop offset="0.5124" stop-color="#f2c839"/><stop offset="0.5311" stop-color="#bcbc62"/><stop offset="0.5435" stop-color="#24b2ae"/><stop offset="0.5621" stop-color="#0b9bcb"/><stop offset="0.5932" stop-color="#118dd1"/><stop offset="0.6335" stop-color="#086ddd"/><stop offset="0.6491" stop-color="#0c58d0"/><stop offset="0.6894" stop-color="#108ed0"/><stop offset="0.7019" stop-color="#0e93ce"/><stop offset="0.7267" stop-color="#076ade"/><stop offset="0.736" stop-color="#154ec1"/><stop offset="0.7764" stop-color="#0669df"/><stop offset="0.8043" stop-color="#0a5bd5"/><stop offset="0.8168" stop-color="#1d45b2"/><stop offset="0.8416" stop-color="#0a72db"/><stop offset="0.8634" stop-color="#154ec1"/><stop offset="0.8696" stop-color="#253ca4"/><stop offset="0.8851" stop-color="#164ebf"/><stop offset="0.9006" stop-color="#076bde"/><stop offset="0.9286" stop-color="#0d77d9"/><stop offset="0.9472" stop-color="#08a3c8"/><stop offset="0.9658" stop-color="#08a3c8"/><stop offset="0.9783" stop-color="#1485d4"/><stop offset="0.9969" stop-color="#107dd7"/><stop offset="1" stop-color="#107dd7"/></linearGradient>
<linearGradient id="mg_C2_5" gradientUnits="userSpaceOnUse" x1="0" y1="501.75" x2="0" y2="522.75"><stop offset="0" stop-color="#000"/><stop offset="1" stop-color="#fff"/></linearGradient>
<mask id="m_C2_5" maskUnits="userSpaceOnUse" x="0" y="0" width="484" height="550"><rect x="9.75" y="416.75" width="160.25" height="107" fill="url(#mg_C2_5)"/></mask>
<linearGradient id="cb_C2" x1="0" y1="0" x2="0" y2="1"><stop offset="0" stop-color="#f9fb0e"/><stop offset="0.06" stop-color="#fae41e"/><stop offset="0.12" stop-color="#fcce2e"/><stop offset="0.19" stop-color="#eac442"/><stop offset="0.25" stop-color="#d9ba56"/><stop offset="0.31" stop-color="#b6bc64"/><stop offset="0.38" stop-color="#92bf73"/><stop offset="0.44" stop-color="#65bc88"/><stop offset="0.5" stop-color="#38b99e"/><stop offset="0.56" stop-color="#1fb0b2"/><stop offset="0.62" stop-color="#06a7c6"/><stop offset="0.69" stop-color="#0d96cd"/><stop offset="0.75" stop-color="#1485d4"/><stop offset="0.81" stop-color="#0c74da"/><stop offset="0.88" stop-color="#0363e1"/><stop offset="0.94" stop-color="#1c46b4"/><stop offset="1" stop-color="#352a87"/></linearGradient>
<clipPath id="clip_D1"><polygon points="281.5,335.75 335.75,335.75 389.25,282.75 443,282.75 443,389.5 281.5,389.5"/></clipPath>
<linearGradient id="g_D1_0" gradientUnits="userSpaceOnUse" x1="81.19" y1="-81.19" x2="-54.93" y2="54.93"><stop offset="0" stop-color="#0e93ce"/><stop offset="0.0494" stop-color="#0b9acb"/><stop offset="0.0883" stop-color="#25b2ad"/><stop offset="0.1169" stop-color="#5fbc8b"/><stop offset="0.1532" stop-color="#6ebd84"/><stop offset="0.174" stop-color="#9abe70"/><stop offset="0.2" stop-color="#fbcd2f"/><stop offset="0.2182" stop-color="#faf115"/><stop offset="0.2364" stop-color="#d8ba56"/><stop offset="0.2649" stop-color="#91bf73"/><stop offset="0.2935" stop-color="#6cbc85"/><stop offset="0.3195" stop-color="#d0bb5a"/><stop offset="0.3247" stop-color="#c6bb5e"/><stop offset="0.3584" stop-color="#30b6a4"/><stop offset="0.439" stop-color="#117ed7"/><stop offset="0.4727" stop-color="#0e78d9"/><stop offset="0.5091" stop-color="#06a6c6"/><stop offset="0.5429" stop-color="#128ad2"/><stop offset="0.5506" stop-color="#1388d3"/><stop offset="0.5714" stop-color="#0c99cc"/><stop offset="0.587" stop-color="#0ba9c2"/><stop offset="0.5948" stop-color="#08a3c8"/><stop offset="0.5974" stop-color="#117fd6"/><stop offset="0.6208" stop-color="#0f7bd8"/><stop offset="0.639" stop-color="#1384d5"/><stop offset="0.6571" stop-color="#0f92cf"/><stop offset="0.6961" stop-color="#0c76da"/><stop offset="0.7065" stop-color="#076cde"/><stop offset="0.7195" stop-color="#144fc2"/><stop offset="0.7273" stop-color="#194ab9"/><stop offset="0.7403" stop-color="#0465e0"/><stop offset="0.7636" stop-color="#108fd0"/><stop offset="0.7974" stop-color="#0aa9c3"/><stop offset="0.8078" stop-color="#0faabf"/><stop offset="0.8416" stop-color="#107dd7"/><stop offset="0.8753" stop-color="#118cd1"/><stop offset="0.8961" stop-color="#0e78d9"/><stop offset="0.9169" stop-color="#09a1c9"/><stop offset="0.9351" stop-color="#24b2ae"/><stop offset="0.9481" stop-color="#07a3c7"/><stop offset="0.9532" stop-color="#0d96cd"/><stop offset="0.9584" stop-color="#0a9cca"/><stop offset="0.9688" stop-color="#1fb0b2"/><stop offset="0.9844" stop-color="#26b3ac"/><stop offset="0.987" stop-color="#38b99e"/><stop offset="1" stop-color="#38b99e"/></linearGradient>
<linearGradient id="g_D1_1" gradientUnits="userSpaceOnUse" x1="81.19" y1="-81.19" x2="-54.93" y2="54.93"><stop offset="0" stop-color="#0e93ce"/><stop offset="0.0494" stop-color="#0b9acb"/><stop offset="0.0857" stop-color="#17adb8"/><stop offset="0.1169" stop-color="#7ebe7d"/><stop offset="0.1506" stop-color="#61bc8b"/><stop offset="0.1714" stop-color="#80be7b"/><stop offset="0.1974" stop-color="#f7cb33"/><stop offset="0.2182" stop-color="#faf214"/><stop offset="0.2364" stop-color="#d7ba57"/><stop offset="0.2831" stop-color="#70bd83"/><stop offset="0.2935" stop-color="#63bc89"/><stop offset="0.3195" stop-color="#debd50"/><stop offset="0.3247" stop-color="#d9ba56"/><stop offset="0.3584" stop-color="#36b8a0"/><stop offset="0.4286" stop-color="#1383d5"/><stop offset="0.4468" stop-color="#0f7bd8"/><stop offset="0.4727" stop-color="#0d78d9"/><stop offset="0.5091" stop-color="#06a7c6"/><stop offset="0.5455" stop-color="#117ed7"/><stop offset="0.587" stop-color="#0faabf"/><stop offset="0.6286" stop-color="#1387d3"/><stop offset="0.6675" stop-color="#23b1af"/><stop offset="0.7039" stop-color="#0e93ce"/><stop offset="0.7403" stop-color="#07a6c7"/><stop offset="0.7636" stop-color="#1282d5"/><stop offset="0.7974" stop-color="#0d77d9"/><stop offset="0.8182" stop-color="#0c97cc"/><stop offset="0.8338" stop-color="#0ca9c1"/><stop offset="0.8416" stop-color="#21b1b1"/><stop offset="0.8675" stop-color="#0c99cc"/><stop offset="0.8805" stop-color="#107dd7"/><stop offset="0.9091" stop-color="#1180d6"/><stop offset="0.9247" stop-color="#0b9bcb"/><stop offset="0.9351" stop-color="#28b3ab"/><stop offset="0.9429" stop-color="#26b3ac"/><stop offset="0.9506" stop-color="#14acbb"/><stop offset="0.9558" stop-color="#08a2c8"/><stop offset="0.9636" stop-color="#0aa9c3"/><stop offset="0.9714" stop-color="#22b1af"/><stop offset="0.9844" stop-color="#2ab4aa"/><stop offset="0.987" stop-color="#38b99e"/><stop offset="1" stop-color="#38b99e"/></linearGradient>
<linearGradient id="mg_D1_1" gradientUnits="userSpaceOnUse" x1="308.63" y1="308.62" x2="362.44" y2="362.44"><stop offset="0" stop-color="#000"/><stop offset="1" stop-color="#fff"/></linearGradient>
<mask id="m_D1_1" maskUnits="userSpaceOnUse" x="0" y="0" width="484" height="550"><rect x="280.5" y="281.75" width="163.5" height="108.75" fill="url(#mg_D1_1)"/></mask>
<linearGradient id="g_D1_2" gradientUnits="userSpaceOnUse" x1="81.19" y1="-81.19" x2="-54.93" y2="54.93"><stop offset="0" stop-color="#0e93ce"/><stop offset="0.0468" stop-color="#0c98cc"/><stop offset="0.0961" stop-color="#33b7a2"/><stop offset="0.1247" stop-color="#37b99e"/><stop offset="0.1792" stop-color="#c4bb5f"/><stop offset="0.2156" stop-color="#faef17"/><stop offset="0.2312" stop-color="#f3c938"/><stop offset="0.2416" stop-color="#a6be6b"/><stop offset="0.2649" stop-color="#62bc8a"/><stop offset="0.2883" stop-color="#b7bc64"/><stop offset="0.2935" stop-color="#a4be6c"/><stop offset="0.3091" stop-color="#37b89f"/><stop offset="0.3325" stop-color="#07a7c5"/><stop offset="0.3636" stop-color="#0c99cc"/><stop offset="0.3974" stop-color="#0a9dca"/><stop offset="0.4312" stop-color="#09a0c9"/><stop offset="0.4623" stop-color="#0d78d9"/><stop offset="0.4909" stop-color="#117fd6"/><stop offset="0.5351" stop-color="#2fb6a5"/><stop offset="0.5377" stop-color="#34b7a1"/><stop offset="0.5636" stop-color="#1486d4"/><stop offset="0.5896" stop-color="#09a1c9"/><stop offset="0.6156" stop-color="#1280d6"/><stop offset="0.6442" stop-color="#099fc9"/><stop offset="0.6727" stop-color="#0e93ce"/><stop offset="0.7039" stop-color="#09a0c9"/><stop offset="0.7299" stop-color="#0c99cc"/><stop offset="0.774" stop-color="#107cd7"/><stop offset="0.8" stop-color="#1382d5"/><stop offset="0.8182" stop-color="#0c98cc"/><stop offset="0.8364" stop-color="#09a8c3"/><stop offset="0.8442" stop-color="#13acbc"/><stop offset="0.8675" stop-color="#0d96cd"/><stop offset="0.8805" stop-color="#117fd6"/><stop offset="0.8987" stop-color="#107dd7"/><stop offset="0.9117" stop-color="#128ad2"/><stop offset="0.9247" stop-color="#099fc9"/><stop offset="0.9351" stop-color="#27b3ac"/><stop offset="0.9429" stop-color="#20b0b2"/><stop offset="0.9506" stop-color="#0ba9c2"/><stop offset="0.9558" stop-color="#0a9eca"/><stop offset="0.9636" stop-color="#0aa9c2"/><stop offset="0.9688" stop-color="#1eb0b3"/><stop offset="0.9844" stop-color="#24b2ae"/><stop offset="0.987" stop-color="#38b99e"/><stop offset="1" stop-color="#38b99e"/></linearGradient>
<linearGradient id="mg_D1_2" gradientUnits="userSpaceOnUse" x1="362.44" y1="362.44" x2="416.25" y2="416.25"><stop offset="0" stop-color="#000"/><stop offset="1" stop-color="#fff"/></linearGradient>
<mask id="m_D1_2" maskUnits="userSpaceOnUse" x="0" y="0" width="484" height="550"><rect x="280.5" y="281.75" width="163.5" height="108.75" fill="url(#mg_D1_2)"/></mask>
<linearGradient id="sg_D1_0" gradientUnits="userSpaceOnUse" x1="293" y1="334" x2="331" y2="370"><stop offset="0" stop-color="#253ca4"/><stop offset="0.33" stop-color="#2d3395"/><stop offset="0.67" stop-color="#253ca4"/><stop offset="1" stop-color="#0d77d9"/></linearGradient>
<filter id="bl_1_00" filterUnits="userSpaceOnUse" x="0" y="0" width="484" height="550"><feGaussianBlur stdDeviation="1"/></filter>
<linearGradient id="cb_D1" x1="0" y1="0" x2="0" y2="1"><stop offset="0" stop-color="#f9fb0e"/><stop offset="0.06" stop-color="#fae41e"/><stop offset="0.12" stop-color="#fcce2e"/><stop offset="0.19" stop-color="#eac442"/><stop offset="0.25" stop-color="#d9ba56"/><stop offset="0.31" stop-color="#b6bc64"/><stop offset="0.38" stop-color="#92bf73"/><stop offset="0.44" stop-color="#65bc88"/><stop offset="0.5" stop-color="#38b99e"/><stop offset="0.56" stop-color="#1fb0b2"/><stop offset="0.62" stop-color="#06a7c6"/><stop offset="0.69" stop-color="#0d96cd"/><stop offset="0.75" stop-color="#1485d4"/><stop offset="0.81" stop-color="#0c74da"/><stop offset="0.88" stop-color="#0363e1"/><stop offset="0.94" stop-color="#1c46b4"/><stop offset="1" stop-color="#352a87"/></linearGradient>
<clipPath id="clip_D2"><polygon points="282,469 335.75,469 389.25,415.75 443,415.75 443,521.5 282,521.5"/></clipPath>
<linearGradient id="g_D2_0" gradientUnits="userSpaceOnUse" x1="-23.87" y1="28.95" x2="-142.81" y2="173.25"><stop offset="0" stop-color="#10abbe"/><stop offset="0.0401" stop-color="#18adb8"/><stop offset="0.0561" stop-color="#30b6a4"/><stop offset="0.0642" stop-color="#59bb8e"/><stop offset="0.0775" stop-color="#31b7a3"/><stop offset="0.0856" stop-color="#14acbb"/><stop offset="0.123" stop-color="#0d95cd"/><stop offset="0.1497" stop-color="#0f7cd8"/><stop offset="0.1604" stop-color="#0462df"/><stop offset="0.1711" stop-color="#164dbf"/><stop offset="0.1818" stop-color="#0660dc"/><stop offset="0.1898" stop-color="#0f7ad8"/><stop offset="0.2005" stop-color="#0e7ad8"/><stop offset="0.2273" stop-color="#1090d0"/><stop offset="0.2861" stop-color="#46ba97"/><stop offset="0.3182" stop-color="#c2bc5f"/><stop offset="0.3583" stop-color="#79bd7f"/><stop offset="0.3957" stop-color="#1388d3"/><stop offset="0.4385" stop-color="#21b1b1"/><stop offset="0.4679" stop-color="#7dbe7d"/><stop offset="0.5829" stop-color="#1485d4"/><stop offset="0.5989" stop-color="#1486d4"/><stop offset="0.631" stop-color="#34b8a1"/><stop offset="0.6364" stop-color="#2eb5a6"/><stop offset="0.6471" stop-color="#11abbd"/><stop offset="0.7059" stop-color="#d8ba57"/><stop offset="0.7246" stop-color="#c8bb5d"/><stop offset="0.7594" stop-color="#0faabe"/><stop offset="0.7754" stop-color="#06a7c6"/><stop offset="0.7834" stop-color="#09a8c4"/><stop offset="0.8021" stop-color="#1485d4"/><stop offset="0.8262" stop-color="#107ed7"/><stop offset="0.8717" stop-color="#59bb8e"/><stop offset="0.8957" stop-color="#f4c938"/><stop offset="0.9171" stop-color="#a7bd6a"/><stop offset="0.9225" stop-color="#b0bd67"/><stop offset="0.9412" stop-color="#e6c147"/><stop offset="0.9679" stop-color="#4cba94"/><stop offset="0.9813" stop-color="#26b3ac"/><stop offset="0.9893" stop-color="#28b3ab"/><stop offset="0.992" stop-color="#10abbe"/><stop offset="1" stop-color="#10abbe"/></linearGradient>
<linearGradient id="g_D2_1" gradientUnits="userSpaceOnUse" x1="-23.87" y1="28.95" x2="-142.81" y2="173.25"><stop offset="0" stop-color="#10abbe"/><stop offset="0.0455" stop-color="#0faabf"/><stop offset="0.0561" stop-color="#0eaabf"/><stop offset="0.1016" stop-color="#7ebe7d"/><stop offset="0.1283" stop-color="#0eaabf"/><stop offset="0.1765" stop-color="#1384d4"/><stop offset="0.2059" stop-color="#096edd"/><stop offset="0.2433" stop-color="#107dd7"/><stop offset="0.2647" stop-color="#1486d4"/><stop offset="0.2888" stop-color="#0e93ce"/><stop offset="0.3075" stop-color="#0e93ce"/><stop offset="0.3342" stop-color="#72bd82"/><stop offset="0.3369" stop-color="#7bbd7e"/><stop offset="0.3529" stop-color="#24b2ae"/><stop offset="0.369" stop-color="#10abbe"/><stop offset="0.3984" stop-color="#b1bd66"/><stop offset="0.4011" stop-color="#b6bc64"/><stop offset="0.4251" stop-color="#59bb8e"/><stop offset="0.4519" stop-color="#86be79"/><stop offset="0.4652" stop-color="#acbd68"/><stop offset="0.4973" stop-color="#23b1af"/><stop offset="0.5134" stop-color="#4dba94"/><stop offset="0.5267" stop-color="#93bf72"/><stop offset="0.5374" stop-color="#64bc89"/><stop offset="0.5428" stop-color="#3db99b"/><stop offset="0.5588" stop-color="#86be79"/><stop offset="0.5775" stop-color="#07a7c5"/><stop offset="0.5989" stop-color="#0e94ce"/><stop offset="0.6337" stop-color="#24b2ae"/><stop offset="0.6444" stop-color="#36b8a0"/><stop offset="0.6845" stop-color="#0e93ce"/><stop offset="0.7086" stop-color="#108ed0"/><stop offset="0.7433" stop-color="#66bc88"/><stop offset="0.762" stop-color="#9bbe6f"/><stop offset="0.7861" stop-color="#3fb99b"/><stop offset="0.7995" stop-color="#19aeb7"/><stop offset="0.8155" stop-color="#33b7a2"/><stop offset="0.8289" stop-color="#14acbb"/><stop offset="0.8342" stop-color="#06a7c6"/><stop offset="0.8503" stop-color="#0faabe"/><stop offset="0.869" stop-color="#65bc89"/><stop offset="0.8904" stop-color="#f6ca35"/><stop offset="0.8957" stop-color="#fbdb25"/><stop offset="0.9064" stop-color="#fbe021"/><stop offset="0.9385" stop-color="#e4c049"/><stop offset="0.9492" stop-color="#c5bb5e"/><stop offset="0.9706" stop-color="#46ba97"/><stop offset="0.9813" stop-color="#2ab4a9"/><stop offset="0.9893" stop-color="#2bb4a9"/><stop offset="0.992" stop-color="#10abbe"/><stop offset="1" stop-color="#10abbe"/></linearGradient>
<linearGradient id="mg_D2_1" gradientUnits="userSpaceOnUse" x1="412.82" y1="340.3" x2="478.41" y2="394.37"><stop offset="0" stop-color="#000"/><stop offset="1" stop-color="#fff"/></linearGradient>
<mask id="m_D2_1" maskUnits="userSpaceOnUse" x="0" y="0" width="484" height="550"><rect x="281" y="414.75" width="163" height="107.75" fill="url(#mg_D2_1)"/></mask>
<linearGradient id="sg_D2_0" gradientUnits="userSpaceOnUse" x1="390" y1="414" x2="443" y2="460"><stop offset="0" stop-color="#253ca4"/><stop offset="0.5" stop-color="#1d45b2"/><stop offset="1" stop-color="#066ade"/></linearGradient>
<linearGradient id="sg_D2_1" gradientUnits="userSpaceOnUse" x1="276" y1="491" x2="318" y2="526"><stop offset="0" stop-color="#fae91b"/><stop offset="0.5" stop-color="#f9fb0e"/><stop offset="1" stop-color="#fae91b"/></linearGradient>
<linearGradient id="cb_D2" x1="0" y1="0" x2="0" y2="1"><stop offset="0" stop-color="#f9fb0e"/><stop offset="0.06" stop-color="#fae41e"/><stop offset="0.12" stop-color="#fcce2e"/><stop offset="0.19" stop-color="#eac442"/><stop offset="0.25" stop-color="#d9ba56"/><stop offset="0.31" stop-color="#b6bc64"/><stop offset="0.38" stop-color="#92bf73"/><stop offset="0.44" stop-color="#65bc88"/><stop offset="0.5" stop-color="#38b99e"/><stop offset="0.56" stop-color="#1fb0b2"/><stop offset="0.62" stop-color="#06a7c6"/><stop offset="0.69" stop-color="#0d96cd"/><stop offset="0.75" stop-color="#1485d4"/><stop offset="0.81" stop-color="#0c74da"/><stop offset="0.88" stop-color="#0363e1"/><stop offset="0.94" stop-color="#1c46b4"/><stop offset="1" stop-color="#352a87"/></linearGradient>
</defs>
<rect width="484" height="550" fill="#fff"/>
<rect x="7.5" y="9.5" width="163" height="114" fill="#fff" stroke="#b8b8b8" stroke-width="1"/>
<g clip-path="url(#clip_A1)">
<rect x="11.5" y="13" width="156" height="106" fill="url(#g_A1_0)"/>
<rect x="11.5" y="13" width="156" height="106" fill="url(#g_A1_1)" mask="url(#m_A1_1)"/>
<rect x="11.5" y="13" width="156" height="106" fill="url(#g_A1_2)" mask="url(#m_A1_2)"/>
<rect x="11.5" y="13" width="156" height="106" fill="url(#g_A1_3)" mask="url(#m_A1_3)"/>
<rect x="11.5" y="13" width="156" height="106" fill="url(#g_A1_4)" mask="url(#m_A1_4)"/>
<rect x="11.5" y="13" width="156" height="106" fill="url(#g_A1_5)" mask="url(#m_A1_5)"/>
<rect x="11.5" y="13" width="156" height="106" fill="url(#g_A1_6)" mask="url(#m_A1_6)"/>
<rect x="11.5" y="13" width="156" height="106" fill="url(#g_A1_7)" mask="url(#m_A1_7)"/>
</g>
<polygon points="12.5,66 64.5,66 115.5,14 166.5,14 166.5,118 12.5,118" fill="none" stroke="#1e1e1e" stroke-width="1.1" stroke-linejoin="miter"/>
<rect x="176" y="9.5" width="9" height="114.2" fill="url(#cb_A1)"/>
<rect x="181.2" y="9.55" width="3.8" height="1.3" fill="#151515"/>
<text x="189.2" y="14.9" class="t">16</text>
<rect x="181.2" y="30.35" width="3.8" height="1.3" fill="#151515"/>
<text x="189.2" y="35.7" class="t">14</text>
<rect x="181.2" y="51.85" width="3.8" height="1.3" fill="#151515"/>
<text x="189.2" y="57.2" class="t">12</text>
<rect x="181.2" y="73.35" width="3.8" height="1.3" fill="#151515"/>
<text x="189.2" y="78.7" class="t">10</text>
<rect x="181.2" y="93.85" width="3.8" height="1.3" fill="#151515"/>
<text x="189.2" y="99.2" class="t">8</text>
<rect x="181.2" y="114.35" width="3.8" height="1.3" fill="#151515"/>
<text x="189.2" y="119.7" class="t">6</text>
<text x="20.4" y="26.6" class="rf">RF_<tspan font-style="italic">c</tspan></text>
<rect x="7.5" y="140.5" width="163" height="114.5" fill="#fff" stroke="#b8b8b8" stroke-width="1"/>
<g clip-path="url(#clip_A2)">
<rect x="11.5" y="144" width="156" height="106.5" fill="url(#g_A2_0)"/>
<rect x="11.5" y="144" width="156" height="106.5" fill="url(#g_A2_1)" mask="url(#m_A2_1)"/>
<rect x="11.5" y="144" width="156" height="106.5" fill="url(#g_A2_2)" mask="url(#m_A2_2)"/>
<rect x="11.5" y="144" width="156" height="106.5" fill="url(#g_A2_3)" mask="url(#m_A2_3)"/>
<rect x="11.5" y="144" width="156" height="106.5" fill="url(#g_A2_4)" mask="url(#m_A2_4)"/>
<rect x="11.5" y="144" width="156" height="106.5" fill="url(#g_A2_5)" mask="url(#m_A2_5)"/>
<rect x="11.5" y="144" width="156" height="106.5" fill="url(#g_A2_6)" mask="url(#m_A2_6)"/>
<rect x="11.5" y="144" width="156" height="106.5" fill="url(#g_A2_7)" mask="url(#m_A2_7)"/>
</g>
<polygon points="12.5,197 64.5,197 115.5,145 166.5,145 166.5,249.5 12.5,249.5" fill="none" stroke="#1e1e1e" stroke-width="1.1" stroke-linejoin="miter"/>
<rect x="176" y="140.5" width="9" height="114" fill="url(#cb_A2)"/>
<rect x="181.2" y="175.1" width="3.8" height="1.3" fill="#151515"/>
<text x="189.2" y="180.45" class="t">40</text>
<rect x="181.2" y="211.85" width="3.8" height="1.3" fill="#151515"/>
<text x="189.2" y="217.2" class="t">30</text>
<rect x="181.2" y="249.85" width="3.8" height="1.3" fill="#151515"/>
<text x="189.2" y="255.2" class="t">20</text>
<text x="20" y="160.5" class="rf">RF_<tspan font-style="italic">&#966;</tspan></text>
<rect x="277.5" y="9.5" width="169" height="115" fill="#fff" stroke="#b8b8b8" stroke-width="1"/>
<g clip-path="url(#clip_B1)">
<rect x="281.75" y="13.25" width="161.75" height="106.75" fill="url(#g_B1_0)"/>
<rect x="281.75" y="13.25" width="161.75" height="106.75" fill="url(#g_B1_1)" mask="url(#m_B1_1)"/>
<rect x="281.75" y="13.25" width="161.75" height="106.75" fill="url(#g_B1_2)" mask="url(#m_B1_2)"/>
<line x1="281" y1="99" x2="320" y2="60" stroke="url(#sg_B1_0)" stroke-width="5" filter="url(#bl_1_30)" opacity="0.9"/>
<line x1="287" y1="122" x2="302" y2="107" stroke="url(#sg_B1_1)" stroke-width="4" filter="url(#bl_1_20)" opacity="0.8"/>
<line x1="383" y1="122" x2="446" y2="70" stroke="url(#sg_B1_2)" stroke-width="5" filter="url(#bl_1_30)" opacity="0.9"/>
<line x1="407" y1="122" x2="446" y2="94" stroke="url(#sg_B1_3)" stroke-width="4" filter="url(#bl_1_20)" opacity="0.8"/>
<line x1="326" y1="121" x2="379" y2="65" stroke="url(#sg_B1_4)" stroke-width="4" filter="url(#bl_1_20)" opacity="0.85"/>
<line x1="379" y1="65" x2="421" y2="12" stroke="url(#sg_B1_5)" stroke-width="4" filter="url(#bl_1_20)" opacity="0.85"/>
<line x1="350" y1="88" x2="412" y2="26" stroke="url(#sg_B1_6)" stroke-width="3.5" filter="url(#bl_1_20)" opacity="0.7"/>
</g>
<polygon points="282.75,66.25 336,66.25 388.75,14.25 442.5,14.25 442.5,119 282.75,119" fill="none" stroke="#1e1e1e" stroke-width="1.1" stroke-linejoin="miter"/>
<rect x="451.75" y="9.5" width="9.25" height="114.75" fill="url(#cb_B1)"/>
<rect x="457.2" y="23.1" width="3.8" height="1.3" fill="#151515"/>
<text x="465.2" y="28.45" class="t">18</text>
<rect x="457.2" y="39.85" width="3.8" height="1.3" fill="#151515"/>
<text x="465.2" y="45.2" class="t">16</text>
<rect x="457.2" y="57.35" width="3.8" height="1.3" fill="#151515"/>
<text x="465.2" y="62.7" class="t">14</text>
<rect x="457.2" y="74.35" width="3.8" height="1.3" fill="#151515"/>
<text x="465.2" y="79.7" class="t">12</text>
<rect x="457.2" y="91.35" width="3.8" height="1.3" fill="#151515"/>
<text x="465.2" y="96.7" class="t">10</text>
<rect x="457.2" y="108.1" width="3.8" height="1.3" fill="#151515"/>
<text x="465.2" y="113.45" class="t">8</text>
<text x="288.5" y="25.75" class="rf">RF_<tspan font-style="italic">c</tspan></text>
<rect x="277.5" y="140.5" width="169" height="115" fill="#fff" stroke="#b8b8b8" stroke-width="1"/>
<g clip-path="url(#clip_B2)">
<rect x="281.75" y="144" width="161.75" height="107" fill="url(#g_B2_0)"/>
<rect x="281.75" y="144" width="161.75" height="107" fill="url(#g_B2_1)" mask="url(#m_B2_1)"/>
<rect x="281.75" y="144" width="161.75" height="107" fill="url(#g_B2_2)" mask="url(#m_B2_2)"/>
<line x1="312" y1="256" x2="404" y2="156" stroke="url(#sg_B2_0)" stroke-width="16" filter="url(#bl_2_50)" opacity="0.7"/>
<line x1="318" y1="252" x2="401" y2="161" stroke="url(#sg_B2_1)" stroke-width="7" filter="url(#bl_1_40)" opacity="0.95"/>
<line x1="386" y1="252" x2="443" y2="203" stroke="url(#sg_B2_2)" stroke-width="5" filter="url(#bl_1_50)" opacity="0.9"/>
</g>
<polygon points="282.75,197.5 336,197.5 388.75,145 442.5,145 442.5,250 282.75,250" fill="none" stroke="#1e1e1e" stroke-width="1.1" stroke-linejoin="miter"/>
<rect x="451.75" y="140.5" width="9.25" height="115" fill="url(#cb_B2)"/>
<rect x="457.2" y="158.6" width="3.8" height="1.3" fill="#151515"/>
<text x="465.2" y="163.95" class="t">35</text>
<rect x="457.2" y="182.6" width="3.8" height="1.3" fill="#151515"/>
<text x="465.2" y="187.95" class="t">30</text>
<rect x="457.2" y="206.85" width="3.8" height="1.3" fill="#151515"/>
<text x="465.2" y="212.2" class="t">25</text>
<rect x="457.2" y="230.6" width="3.8" height="1.3" fill="#151515"/>
<text x="465.2" y="235.95" class="t">20</text>
<text x="288.5" y="158" class="rf">RF_<tspan font-style="italic">&#966;</tspan></text>
<rect x="5.5" y="281.5" width="168" height="116" fill="#fff" stroke="#b8b8b8" stroke-width="1"/>
<g clip-path="url(#clip_C1)">
<rect x="9.75" y="284.75" width="160.25" height="107" fill="url(#g_C1_0)"/>
<rect x="9.75" y="284.75" width="160.25" height="107" fill="url(#g_C1_1)" mask="url(#m_C1_1)"/>
<rect x="9.75" y="284.75" width="160.25" height="107" fill="url(#g_C1_2)" mask="url(#m_C1_2)"/>
<rect x="9.75" y="284.75" width="160.25" height="107" fill="url(#g_C1_3)" mask="url(#m_C1_3)"/>
<rect x="9.75" y="284.75" width="160.25" height="107" fill="url(#g_C1_4)" mask="url(#m_C1_4)"/>
<rect x="9.75" y="284.75" width="160.25" height="107" fill="url(#g_C1_5)" mask="url(#m_C1_5)"/>
</g>
<polygon points="10.75,338.25 63.75,338.25 116.25,285.75 169,285.75 169,390.75 10.75,390.75" fill="none" stroke="#1e1e1e" stroke-width="1.1" stroke-linejoin="miter"/>
<rect x="178.5" y="281.25" width="9.25" height="115.75" fill="url(#cb_C1)"/>
<rect x="183.95" y="296.35" width="3.8" height="1.3" fill="#151515"/>
<text x="191.95" y="301.7" class="t">18</text>
<rect x="183.95" y="312.6" width="3.8" height="1.3" fill="#151515"/>
<text x="191.95" y="317.95" class="t">16</text>
<rect x="183.95" y="329.35" width="3.8" height="1.3" fill="#151515"/>
<text x="191.95" y="334.7" class="t">14</text>
<rect x="183.95" y="345.85" width="3.8" height="1.3" fill="#151515"/>
<text x="191.95" y="351.2" class="t">12</text>
<rect x="183.95" y="361.85" width="3.8" height="1.3" fill="#151515"/>
<text x="191.95" y="367.2" class="t">10</text>
<rect x="183.95" y="378.35" width="3.8" height="1.3" fill="#151515"/>
<text x="191.95" y="383.7" class="t">8</text>
<rect x="183.95" y="394.35" width="3.8" height="1.3" fill="#151515"/>
<text x="191.95" y="399.7" class="t">6</text>
<text x="16.5" y="297.5" class="rf">RF_<tspan font-style="italic">c</tspan></text>
<rect x="5.5" y="413.5" width="168" height="115" fill="#fff" stroke="#b8b8b8" stroke-width="1"/>
<g clip-path="url(#clip_C2)">
<rect x="9.75" y="416.75" width="160.25" height="107" fill="url(#g_C2_0)"/>
<rect x="9.75" y="416.75" width="160.25" height="107" fill="url(#g_C2_1)" mask="url(#m_C2_1)"/>
<rect x="9.75" y="416.75" width="160.25" height="107" fill="url(#g_C2_2)" mask="url(#m_C2_2)"/>
<rect x="9.75" y="416.75" width="160.25" height="107" fill="url(#g_C2_3)" mask="url(#m_C2_3)"/>
<rect x="9.75" y="416.75" width="160.25" height="107" fill="url(#g_C2_4)" mask="url(#m_C2_4)"/>
<rect x="9.75" y="416.75" width="160.25" height="107" fill="url(#g_C2_5)" mask="url(#m_C2_5)"/>
</g>
<polygon points="10.75,470.25 63.75,470.25 116.25,417.75 169,417.75 169,522.75 10.75,522.75" fill="none" stroke="#1e1e1e" stroke-width="1.1" stroke-linejoin="miter"/>
<rect x="178.5" y="413.25" width="9.25" height="115" fill="url(#cb_C2)"/>
<rect x="183.95" y="435.35" width="3.8" height="1.3" fill="#151515"/>
<text x="191.95" y="440.7" class="t">40</text>
<rect x="183.95" y="460.85" width="3.8" height="1.3" fill="#151515"/>
<text x="191.95" y="466.2" class="t">35</text>
<rect x="183.95" y="486.35" width="3.8" height="1.3" fill="#151515"/>
<text x="191.95" y="491.7" class="t">30</text>
<rect x="183.95" y="511.35" width="3.8" height="1.3" fill="#151515"/>
<text x="191.95" y="516.7" class="t">25</text>
<text x="16.5" y="430.25" class="rf">RF_<tspan font-style="italic">&#966;</tspan></text>
<rect x="276.5" y="278.5" width="171" height="116" fill="#fff" stroke="#b8b8b8" stroke-width="1"/>
<g clip-path="url(#clip_D1)">
<rect x="280.5" y="281.75" width="163.5" height="108.75" fill="url(#g_D1_0)"/>
<rect x="280.5" y="281.75" width="163.5" height="108.75" fill="url(#g_D1_1)" mask="url(#m_D1_1)"/>
<rect x="280.5" y="281.75" width="163.5" height="108.75" fill="url(#g_D1_2)" mask="url(#m_D1_2)"/>
<line x1="293" y1="334" x2="331" y2="370" stroke="url(#sg_D1_0)" stroke-width="3.5" filter="url(#bl_1_00)" opacity="0.9"/>
</g>
<polygon points="281.5,335.75 335.75,335.75 389.25,282.75 443,282.75 443,389.5 281.5,389.5" fill="none" stroke="#1e1e1e" stroke-width="1.1" stroke-linejoin="miter"/>
<rect x="452.5" y="278.25" width="9.75" height="116.25" fill="url(#cb_D1)"/>
<rect x="458.45" y="298.35" width="3.8" height="1.3" fill="#151515"/>
<text x="466.45" y="303.7" class="t">15</text>
<rect x="458.45" y="343.35" width="3.8" height="1.3" fill="#151515"/>
<text x="466.45" y="348.7" class="t">10</text>
<rect x="458.45" y="388.85" width="3.8" height="1.3" fill="#151515"/>
<text x="466.45" y="394.2" class="t">5</text>
<text x="287.75" y="294.5" class="rf">RF_<tspan font-style="italic">c</tspan></text>
<rect x="276.5" y="411.5" width="171" height="116" fill="#fff" stroke="#b8b8b8" stroke-width="1"/>
<g clip-path="url(#clip_D2)">
<rect x="281" y="414.75" width="163" height="107.75" fill="url(#g_D2_0)"/>
<rect x="281" y="414.75" width="163" height="107.75" fill="url(#g_D2_1)" mask="url(#m_D2_1)"/>
<line x1="390" y1="414" x2="443" y2="460" stroke="url(#sg_D2_0)" stroke-width="4.5" filter="url(#bl_1_30)" opacity="0.85"/>
<line x1="276" y1="491" x2="318" y2="526" stroke="url(#sg_D2_1)" stroke-width="5.5" filter="url(#bl_1_50)" opacity="0.85"/>
</g>
<polygon points="282,469 335.75,469 389.25,415.75 443,415.75 443,521.5 282,521.5" fill="none" stroke="#1e1e1e" stroke-width="1.1" stroke-linejoin="miter"/>
<rect x="452.5" y="411.5" width="9.75" height="115.75" fill="url(#cb_D2)"/>
<rect x="458.45" y="422.1" width="3.8" height="1.3" fill="#151515"/>
<text x="466.45" y="427.45" class="t">40</text>
<rect x="458.45" y="447.1" width="3.8" height="1.3" fill="#151515"/>
<text x="466.45" y="452.45" class="t">35</text>
<rect x="458.45" y="471.35" width="3.8" height="1.3" fill="#151515"/>
<text x="466.45" y="476.7" class="t">30</text>
<rect x="458.45" y="495.85" width="3.8" height="1.3" fill="#151515"/>
<text x="466.45" y="501.2" class="t">25</text>
<rect x="458.45" y="520.35" width="3.8" height="1.3" fill="#151515"/>
<text x="466.45" y="525.7" class="t">20</text>
<text x="287.75" y="429" class="rf">RF_<tspan font-style="italic">&#966;</tspan></text>
<text x="104.5" y="272.5" class="pl" text-anchor="middle">(<tspan font-weight="bold">a</tspan>)</text>
<text x="376.5" y="272.3" class="pl" text-anchor="middle">(<tspan font-weight="bold">b</tspan>)</text>
<text x="104.5" y="543.5" class="pl" text-anchor="middle">(<tspan font-weight="bold">c</tspan>)</text>
<text x="376.5" y="543.5" class="pl" text-anchor="middle">(<tspan font-weight="bold">d</tspan>)</text>
</svg>
</body></html>
